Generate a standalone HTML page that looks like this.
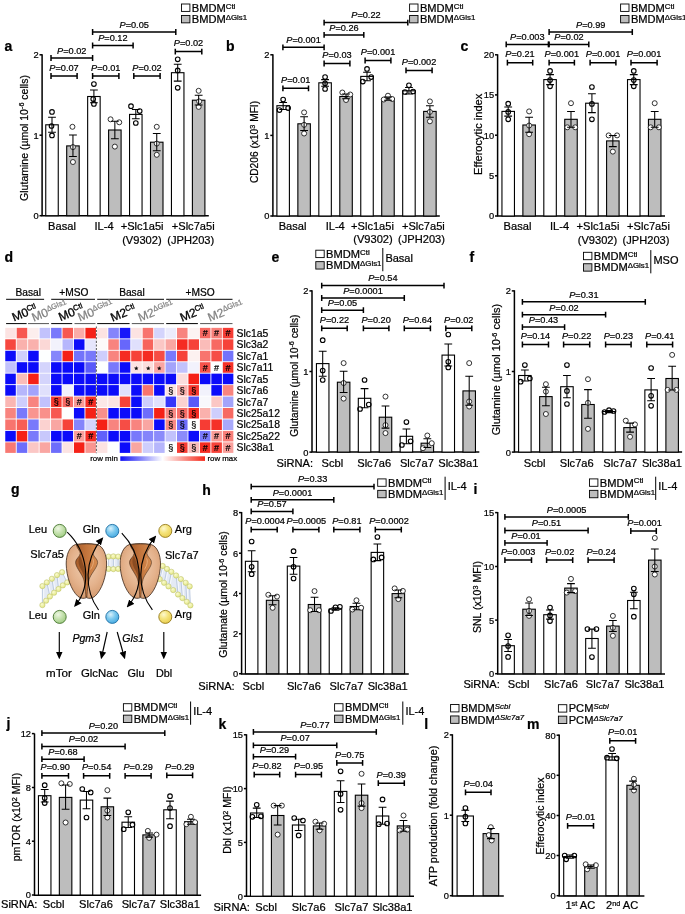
<!DOCTYPE html>
<html><head><meta charset="utf-8"><title>Figure</title>
<style>html,body{margin:0;padding:0;background:#fff}svg{display:block}text{stroke:#000;stroke-width:.22px}text.g{stroke:#7f7f7f;stroke-width:.2px}text.b{stroke-width:.3px}</style></head><body>
<svg width="685" height="914" viewBox="0 0 685 914" font-family='"Liberation Sans", Arial, Helvetica, sans-serif' stroke-linecap="butt">
<rect width="685" height="914" fill="#fff"/>
<text x="4.6" y="50.9" font-size="14" text-anchor="start" fill="#000" font-weight="bold">a</text>
<rect x="181.5" y="4" width="8.4" height="7.4" fill="#fff" stroke="#000" stroke-width="0.9"/>
<text transform="translate(191.8 11.6) scale(1.08 1)" font-size="10.3">BMDM<tspan font-size="7.3" dy="-3.1" >Ctl</tspan><tspan dy="3.1" font-size="1">&#8203;</tspan></text>
<rect x="181.5" y="15.45" width="8.4" height="7.4" fill="#bdbdbd" stroke="#000" stroke-width="0.9"/>
<text transform="translate(191.8 23.05) scale(1.08 1)" font-size="10.3">BMDM<tspan font-size="7.3" dy="-3.1" >&#916;Gls1</tspan><tspan dy="3.1" font-size="1">&#8203;</tspan></text>
<path d="M42.1 54.2V215.7H208.8" stroke="#000" stroke-width="1.5" fill="none"/>
<path d="M39.5 54.8H42.1" stroke="#000" stroke-width="1.5"/>
<text x="38.6" y="58.2" font-size="9.3" text-anchor="end" fill="#000" >2</text>
<path d="M39.5 135.2H42.1" stroke="#000" stroke-width="1.5"/>
<text x="38.6" y="138.6" font-size="9.3" text-anchor="end" fill="#000" >1</text>
<path d="M39.5 215.7H42.1" stroke="#000" stroke-width="1.5"/>
<text x="38.6" y="219.1" font-size="9.3" text-anchor="end" fill="#000" >0</text>
<text transform="translate(27.5 138) rotate(-90)" font-size="10.5" text-anchor="middle">Glutamine (&#181;mol 10<tspan font-size="7.3" dy="-3.1" >-6</tspan><tspan dy="3.1" font-size="1">&#8203;</tspan> cells)</text>
<rect x="45.75" y="124.8" width="12.5" height="90.9" fill="#fff" stroke="#000" stroke-width="1.1"/>
<rect x="66.7" y="145.9" width="12.5" height="69.8" fill="#bdbdbd" stroke="#000" stroke-width="1.1"/>
<rect x="87.65" y="96.5" width="12.5" height="119.2" fill="#fff" stroke="#000" stroke-width="1.1"/>
<rect x="108.6" y="130" width="12.5" height="85.7" fill="#bdbdbd" stroke="#000" stroke-width="1.1"/>
<rect x="129.55" y="114.4" width="12.5" height="101.3" fill="#fff" stroke="#000" stroke-width="1.1"/>
<rect x="150.5" y="142.2" width="12.5" height="73.5" fill="#bdbdbd" stroke="#000" stroke-width="1.1"/>
<rect x="171.45" y="72.7" width="12.5" height="143" fill="#fff" stroke="#000" stroke-width="1.1"/>
<rect x="192.4" y="100.2" width="12.5" height="115.5" fill="#bdbdbd" stroke="#000" stroke-width="1.1"/>
<circle cx="52" cy="111.9" r="2.3" fill="none" stroke="#000" stroke-width="1.1"/>
<circle cx="51.5" cy="126" r="2.3" fill="none" stroke="#000" stroke-width="1.1"/>
<circle cx="52" cy="135.4" r="2.3" fill="none" stroke="#000" stroke-width="1.1"/>
<path d="M52 117.3V132.2M48.1 117.3H55.9M48.1 132.2H55.9" stroke="#000" stroke-width="1.05" fill="none"/>
<circle cx="72.45" cy="126.8" r="2.5" fill="#fff" stroke="#111" stroke-width="0.85"/>
<circle cx="72.95" cy="147.1" r="2.5" fill="#fff" stroke="#111" stroke-width="0.85"/>
<circle cx="72.95" cy="162" r="2.5" fill="#fff" stroke="#111" stroke-width="0.85"/>
<path d="M72.95 135V156.5M69.05 135H76.85M69.05 156.5H76.85" stroke="#000" stroke-width="1.05" fill="none"/>
<circle cx="93.9" cy="84.1" r="2.3" fill="none" stroke="#000" stroke-width="1.1"/>
<circle cx="93.2" cy="99" r="2.3" fill="none" stroke="#000" stroke-width="1.1"/>
<circle cx="93.9" cy="103.9" r="2.3" fill="none" stroke="#000" stroke-width="1.1"/>
<path d="M93.9 90V102.7M90 90H97.8M90 102.7H97.8" stroke="#000" stroke-width="1.05" fill="none"/>
<circle cx="110.55" cy="119.3" r="2.5" fill="#fff" stroke="#111" stroke-width="0.85"/>
<circle cx="119.25" cy="122.3" r="2.5" fill="#fff" stroke="#111" stroke-width="0.85"/>
<circle cx="114.85" cy="146.6" r="2.5" fill="#fff" stroke="#111" stroke-width="0.85"/>
<path d="M114.85 121.3V138.7M110.95 121.3H118.75M110.95 138.7H118.75" stroke="#000" stroke-width="1.05" fill="none"/>
<circle cx="131" cy="106.2" r="2.3" fill="none" stroke="#000" stroke-width="1.1"/>
<circle cx="139.7" cy="111.1" r="2.3" fill="none" stroke="#000" stroke-width="1.1"/>
<circle cx="135.8" cy="123" r="2.3" fill="none" stroke="#000" stroke-width="1.1"/>
<path d="M135.8 109.4V118.8M131.9 109.4H139.7M131.9 118.8H139.7" stroke="#000" stroke-width="1.05" fill="none"/>
<circle cx="156.75" cy="126.8" r="2.5" fill="#fff" stroke="#111" stroke-width="0.85"/>
<circle cx="156.75" cy="143.6" r="2.5" fill="#fff" stroke="#111" stroke-width="0.85"/>
<circle cx="156.75" cy="154.8" r="2.5" fill="#fff" stroke="#111" stroke-width="0.85"/>
<path d="M156.75 133.5V150.8M152.85 133.5H160.65M152.85 150.8H160.65" stroke="#000" stroke-width="1.05" fill="none"/>
<circle cx="177.7" cy="59.3" r="2.3" fill="none" stroke="#000" stroke-width="1.1"/>
<circle cx="177.7" cy="70.4" r="2.3" fill="none" stroke="#000" stroke-width="1.1"/>
<circle cx="177.7" cy="87.8" r="2.3" fill="none" stroke="#000" stroke-width="1.1"/>
<path d="M177.7 64.2V81.1M173.8 64.2H181.6M173.8 81.1H181.6" stroke="#000" stroke-width="1.05" fill="none"/>
<circle cx="198.65" cy="90.8" r="2.5" fill="#fff" stroke="#111" stroke-width="0.85"/>
<circle cx="199.15" cy="101.4" r="2.5" fill="#fff" stroke="#111" stroke-width="0.85"/>
<circle cx="198.65" cy="106.9" r="2.5" fill="#fff" stroke="#111" stroke-width="0.85"/>
<path d="M198.65 95.2V104.9M194.75 95.2H202.55M194.75 104.9H202.55" stroke="#000" stroke-width="1.05" fill="none"/>
<path d="M92.6 29.1V34.9M175.8 29.1V34.9M92.6 32H175.8" stroke="#000" stroke-width="1.5" fill="none"/>
<text x="134.2" y="27.8" font-size="9.2" text-anchor="middle"><tspan font-style="italic">P</tspan>=0.05</text>
<path d="M92.6 42.6V48.4M133.1 42.6V48.4M92.6 45.5H133.1" stroke="#000" stroke-width="1.5" fill="none"/>
<text x="112.85" y="41.3" font-size="9.2" text-anchor="middle"><tspan font-style="italic">P</tspan>=0.12</text>
<path d="M51 55.1V60.9M92.6 55.1V60.9M51 58H92.6" stroke="#000" stroke-width="1.5" fill="none"/>
<text x="71.8" y="53.8" font-size="9.2" text-anchor="middle"><tspan font-style="italic">P</tspan>=0.02</text>
<path d="M51 73.1V78.9M77.1 73.1V78.9M51 76H77.1" stroke="#000" stroke-width="1.5" fill="none"/>
<text x="64.05" y="70.6" font-size="9.2" text-anchor="middle"><tspan font-style="italic">P</tspan>=0.07</text>
<path d="M92.6 73.1V78.9M118.9 73.1V78.9M92.6 76H118.9" stroke="#000" stroke-width="1.5" fill="none"/>
<text x="105.75" y="70.6" font-size="9.2" text-anchor="middle"><tspan font-style="italic">P</tspan>=0.01</text>
<path d="M133.8 73.1V78.9M160.1 73.1V78.9M133.8 76H160.1" stroke="#000" stroke-width="1.5" fill="none"/>
<text x="146.95" y="70.6" font-size="9.2" text-anchor="middle"><tspan font-style="italic">P</tspan>=0.02</text>
<path d="M175.3 48.7V54.5M201.8 48.7V54.5M175.3 51.6H201.8" stroke="#000" stroke-width="1.5" fill="none"/>
<text x="188.55" y="46.2" font-size="9.2" text-anchor="middle"><tspan font-style="italic">P</tspan>=0.02</text>
<text x="62" y="229.9" font-size="11.1" text-anchor="middle" fill="#000" >Basal</text>
<text x="104.1" y="229.9" font-size="11.1" text-anchor="middle" fill="#000" >IL-4</text>
<text x="142.1" y="229.9" font-size="11.1" text-anchor="middle" fill="#000" >+Slc1a5i</text>
<text x="193.2" y="229.9" font-size="11.1" text-anchor="middle" fill="#000" >+Slc7a5i</text>
<text x="141.9" y="243.7" font-size="11.1" text-anchor="middle" fill="#000" >(V9302)</text>
<text x="190.8" y="243.7" font-size="11.1" text-anchor="middle" fill="#000" >(JPH203)</text>
<text x="226" y="50.8" font-size="14" text-anchor="start" fill="#000" font-weight="bold">b</text>
<rect x="409.6" y="4" width="8.4" height="7.4" fill="#fff" stroke="#000" stroke-width="0.9"/>
<text transform="translate(419.9 11.6) scale(1.08 1)" font-size="10.3">BMDM<tspan font-size="7.3" dy="-3.1" >Ctl</tspan><tspan dy="3.1" font-size="1">&#8203;</tspan></text>
<rect x="409.6" y="15.45" width="8.4" height="7.4" fill="#bdbdbd" stroke="#000" stroke-width="0.9"/>
<text transform="translate(419.9 23.05) scale(1.08 1)" font-size="10.3">BMDM<tspan font-size="7.3" dy="-3.1" >&#916;Gls1</tspan><tspan dy="3.1" font-size="1">&#8203;</tspan></text>
<path d="M272.9 54.2V216H439.8" stroke="#000" stroke-width="1.5" fill="none"/>
<path d="M270.3 54.8H272.9" stroke="#000" stroke-width="1.5"/>
<text x="269.4" y="58.2" font-size="9.3" text-anchor="end" fill="#000" >2</text>
<path d="M270.3 135.4H272.9" stroke="#000" stroke-width="1.5"/>
<text x="269.4" y="138.8" font-size="9.3" text-anchor="end" fill="#000" >1</text>
<path d="M270.3 216H272.9" stroke="#000" stroke-width="1.5"/>
<text x="269.4" y="219.4" font-size="9.3" text-anchor="end" fill="#000" >0</text>
<text transform="translate(258.3 142) rotate(-90)" font-size="10.2" text-anchor="middle">CD206 (x10<tspan font-size="7.3" dy="-3.1" >3</tspan><tspan dy="3.1" font-size="1">&#8203;</tspan> MFI)</text>
<rect x="276.9" y="105.7" width="12.5" height="110.3" fill="#fff" stroke="#000" stroke-width="1.1"/>
<rect x="297.86" y="123.8" width="12.5" height="92.2" fill="#bdbdbd" stroke="#000" stroke-width="1.1"/>
<rect x="318.83" y="82.8" width="12.5" height="133.2" fill="#fff" stroke="#000" stroke-width="1.1"/>
<rect x="339.79" y="96.5" width="12.5" height="119.5" fill="#bdbdbd" stroke="#000" stroke-width="1.1"/>
<rect x="360.76" y="76.4" width="12.5" height="139.6" fill="#fff" stroke="#000" stroke-width="1.1"/>
<rect x="381.72" y="98.7" width="12.5" height="117.3" fill="#bdbdbd" stroke="#000" stroke-width="1.1"/>
<rect x="402.69" y="90.8" width="12.5" height="125.2" fill="#fff" stroke="#000" stroke-width="1.1"/>
<rect x="423.65" y="111.4" width="12.5" height="104.6" fill="#bdbdbd" stroke="#000" stroke-width="1.1"/>
<circle cx="283.15" cy="99.5" r="2.3" fill="none" stroke="#000" stroke-width="1.1"/>
<circle cx="279.45" cy="110.1" r="2.3" fill="none" stroke="#000" stroke-width="1.1"/>
<circle cx="288.15" cy="108.1" r="2.3" fill="none" stroke="#000" stroke-width="1.1"/>
<path d="M283.15 102.4V109.4M279.25 102.4H287.05M279.25 109.4H287.05" stroke="#000" stroke-width="1.05" fill="none"/>
<circle cx="304.11" cy="112.4" r="2.5" fill="#fff" stroke="#111" stroke-width="0.85"/>
<circle cx="304.11" cy="124.8" r="2.5" fill="#fff" stroke="#111" stroke-width="0.85"/>
<circle cx="304.11" cy="133.5" r="2.5" fill="#fff" stroke="#111" stroke-width="0.85"/>
<path d="M304.11 116.8V130.5M300.21 116.8H308.01M300.21 130.5H308.01" stroke="#000" stroke-width="1.05" fill="none"/>
<circle cx="325.08" cy="77.1" r="2.3" fill="none" stroke="#000" stroke-width="1.1"/>
<circle cx="325.08" cy="83.3" r="2.3" fill="none" stroke="#000" stroke-width="1.1"/>
<circle cx="325.08" cy="89" r="2.3" fill="none" stroke="#000" stroke-width="1.1"/>
<path d="M325.08 79.6V86.3M321.18 79.6H328.98M321.18 86.3H328.98" stroke="#000" stroke-width="1.05" fill="none"/>
<circle cx="342.34" cy="92.5" r="2.5" fill="#fff" stroke="#111" stroke-width="0.85"/>
<circle cx="350.24" cy="94.5" r="2.5" fill="#fff" stroke="#111" stroke-width="0.85"/>
<circle cx="346.04" cy="100" r="2.5" fill="#fff" stroke="#111" stroke-width="0.85"/>
<path d="M346.04 94V98.7M342.14 94H349.94M342.14 98.7H349.94" stroke="#000" stroke-width="1.05" fill="none"/>
<circle cx="367.01" cy="68.9" r="2.3" fill="none" stroke="#000" stroke-width="1.1"/>
<circle cx="371.21" cy="77.1" r="2.3" fill="none" stroke="#000" stroke-width="1.1"/>
<circle cx="362.81" cy="81.6" r="2.3" fill="none" stroke="#000" stroke-width="1.1"/>
<path d="M367.01 72.2V80.8M363.11 72.2H370.91M363.11 80.8H370.91" stroke="#000" stroke-width="1.05" fill="none"/>
<circle cx="387.97" cy="95.7" r="2.5" fill="#fff" stroke="#111" stroke-width="0.85"/>
<circle cx="383.77" cy="99.5" r="2.5" fill="#fff" stroke="#111" stroke-width="0.85"/>
<circle cx="392.17" cy="99" r="2.5" fill="#fff" stroke="#111" stroke-width="0.85"/>
<path d="M387.97 97V100.2M384.07 97H391.87M384.07 100.2H391.87" stroke="#000" stroke-width="1.05" fill="none"/>
<circle cx="408.94" cy="85.3" r="2.3" fill="none" stroke="#000" stroke-width="1.1"/>
<circle cx="404.94" cy="92" r="2.3" fill="none" stroke="#000" stroke-width="1.1"/>
<circle cx="413.14" cy="91.5" r="2.3" fill="none" stroke="#000" stroke-width="1.1"/>
<path d="M408.94 87.5V94M405.04 87.5H412.84M405.04 94H412.84" stroke="#000" stroke-width="1.05" fill="none"/>
<circle cx="429.9" cy="101.4" r="2.5" fill="#fff" stroke="#111" stroke-width="0.85"/>
<circle cx="429.9" cy="111.9" r="2.5" fill="#fff" stroke="#111" stroke-width="0.85"/>
<circle cx="429.9" cy="121.3" r="2.5" fill="#fff" stroke="#111" stroke-width="0.85"/>
<path d="M429.9 105.7V117.3M426 105.7H433.8M426 117.3H433.8" stroke="#000" stroke-width="1.05" fill="none"/>
<path d="M324.1 19.7V25.5M407.8 19.7V25.5M324.1 22.6H407.8" stroke="#000" stroke-width="1.5" fill="none"/>
<text x="365.95" y="18.4" font-size="9.2" text-anchor="middle"><tspan font-style="italic">P</tspan>=0.22</text>
<path d="M324.1 32V37.8M363.8 32V37.8M324.1 34.9H363.8" stroke="#000" stroke-width="1.5" fill="none"/>
<text x="343.95" y="30.7" font-size="9.2" text-anchor="middle"><tspan font-style="italic">P</tspan>=0.26</text>
<path d="M282.9 44.4V50.2M324.1 44.4V50.2M282.9 47.3H324.1" stroke="#000" stroke-width="1.5" fill="none"/>
<text x="303.5" y="43.1" font-size="9.2" text-anchor="middle"><tspan font-style="italic">P</tspan>=0.001</text>
<path d="M324.1 60.6V66.4M349.9 60.6V66.4M324.1 63.5H349.9" stroke="#000" stroke-width="1.5" fill="none"/>
<text x="337" y="58.1" font-size="9.2" text-anchor="middle"><tspan font-style="italic">P</tspan>=0.03</text>
<path d="M365.1 57.6V63.4M390.9 57.6V63.4M365.1 60.5H390.9" stroke="#000" stroke-width="1.5" fill="none"/>
<text x="378" y="55.1" font-size="9.2" text-anchor="middle"><tspan font-style="italic">P</tspan>=0.001</text>
<path d="M406 67.5V73.3M432.1 67.5V73.3M406 70.4H432.1" stroke="#000" stroke-width="1.5" fill="none"/>
<text x="419.05" y="65" font-size="9.2" text-anchor="middle"><tspan font-style="italic">P</tspan>=0.002</text>
<path d="M282.9 85.4V91.2M308.5 85.4V91.2M282.9 88.3H308.5" stroke="#000" stroke-width="1.5" fill="none"/>
<text x="295.7" y="82.9" font-size="9.2" text-anchor="middle"><tspan font-style="italic">P</tspan>=0.01</text>
<text x="292.6" y="229.6" font-size="11.1" text-anchor="middle" fill="#000" >Basal</text>
<text x="335.2" y="229.6" font-size="11.1" text-anchor="middle" fill="#000" >IL-4</text>
<text x="372.5" y="229.6" font-size="11.1" text-anchor="middle" fill="#000" >+Slc1a5i</text>
<text x="423.4" y="229.6" font-size="11.1" text-anchor="middle" fill="#000" >+Slc7a5i</text>
<text x="373" y="243.4" font-size="11.1" text-anchor="middle" fill="#000" >(V9302)</text>
<text x="421.5" y="243.4" font-size="11.1" text-anchor="middle" fill="#000" >(JPH203)</text>
<text x="460.6" y="50.8" font-size="14" text-anchor="start" fill="#000" font-weight="bold">c</text>
<rect x="620.6" y="4" width="8.4" height="7.4" fill="#fff" stroke="#000" stroke-width="0.9"/>
<text transform="translate(630.9 11.6) scale(1.08 1)" font-size="10.3">BMDM<tspan font-size="7.3" dy="-3.1" >Ctl</tspan><tspan dy="3.1" font-size="1">&#8203;</tspan></text>
<rect x="620.6" y="15.45" width="8.4" height="7.4" fill="#bdbdbd" stroke="#000" stroke-width="0.9"/>
<text transform="translate(630.9 23.05) scale(1.08 1)" font-size="10.3">BMDM<tspan font-size="7.3" dy="-3.1" >&#916;Gls1</tspan><tspan dy="3.1" font-size="1">&#8203;</tspan></text>
<path d="M497.6 54.2V216H665" stroke="#000" stroke-width="1.5" fill="none"/>
<path d="M495 54.8H497.6" stroke="#000" stroke-width="1.5"/>
<text x="494.1" y="58.2" font-size="9.3" text-anchor="end" fill="#000" >20</text>
<path d="M495 94.9H497.6" stroke="#000" stroke-width="1.5"/>
<text x="494.1" y="98.3" font-size="9.3" text-anchor="end" fill="#000" >15</text>
<path d="M495 135.2H497.6" stroke="#000" stroke-width="1.5"/>
<text x="494.1" y="138.6" font-size="9.3" text-anchor="end" fill="#000" >10</text>
<path d="M495 175.8H497.6" stroke="#000" stroke-width="1.5"/>
<text x="494.1" y="179.2" font-size="9.3" text-anchor="end" fill="#000" >5</text>
<path d="M495 216H497.6" stroke="#000" stroke-width="1.5"/>
<text x="494.1" y="219.4" font-size="9.3" text-anchor="end" fill="#000" >0</text>
<text transform="translate(481.6 134.3) rotate(-90)" font-size="11.1" text-anchor="middle">Efferocytic index</text>
<rect x="501.95" y="111.4" width="12.5" height="104.6" fill="#fff" stroke="#000" stroke-width="1.1"/>
<rect x="522.88" y="125" width="12.5" height="91" fill="#bdbdbd" stroke="#000" stroke-width="1.1"/>
<rect x="543.81" y="79.6" width="12.5" height="136.4" fill="#fff" stroke="#000" stroke-width="1.1"/>
<rect x="564.74" y="119.3" width="12.5" height="96.7" fill="#bdbdbd" stroke="#000" stroke-width="1.1"/>
<rect x="585.66" y="103.2" width="12.5" height="112.8" fill="#fff" stroke="#000" stroke-width="1.1"/>
<rect x="606.59" y="140.9" width="12.5" height="75.1" fill="#bdbdbd" stroke="#000" stroke-width="1.1"/>
<rect x="627.52" y="79.6" width="12.5" height="136.4" fill="#fff" stroke="#000" stroke-width="1.1"/>
<rect x="648.45" y="119.3" width="12.5" height="96.7" fill="#bdbdbd" stroke="#000" stroke-width="1.1"/>
<circle cx="508.2" cy="103.7" r="2.3" fill="none" stroke="#000" stroke-width="1.1"/>
<circle cx="508.2" cy="111.9" r="2.3" fill="none" stroke="#000" stroke-width="1.1"/>
<circle cx="508.2" cy="119.3" r="2.3" fill="none" stroke="#000" stroke-width="1.1"/>
<path d="M508.2 106.9V116.1M504.3 106.9H512.1M504.3 116.1H512.1" stroke="#000" stroke-width="1.05" fill="none"/>
<circle cx="529.13" cy="111.4" r="2.5" fill="#fff" stroke="#111" stroke-width="0.85"/>
<circle cx="529.13" cy="125.5" r="2.5" fill="#fff" stroke="#111" stroke-width="0.85"/>
<circle cx="529.13" cy="134.2" r="2.5" fill="#fff" stroke="#111" stroke-width="0.85"/>
<path d="M529.13 117.3V132.2M525.23 117.3H533.03M525.23 132.2H533.03" stroke="#000" stroke-width="1.05" fill="none"/>
<circle cx="550.06" cy="70.9" r="2.3" fill="none" stroke="#000" stroke-width="1.1"/>
<circle cx="550.06" cy="80.1" r="2.3" fill="none" stroke="#000" stroke-width="1.1"/>
<circle cx="550.06" cy="86.3" r="2.3" fill="none" stroke="#000" stroke-width="1.1"/>
<path d="M550.06 74.6V84.6M546.16 74.6H553.96M546.16 84.6H553.96" stroke="#000" stroke-width="1.05" fill="none"/>
<circle cx="570.99" cy="103.2" r="2.5" fill="#fff" stroke="#111" stroke-width="0.85"/>
<circle cx="567.29" cy="127.3" r="2.5" fill="#fff" stroke="#111" stroke-width="0.85"/>
<circle cx="575.19" cy="127.3" r="2.5" fill="#fff" stroke="#111" stroke-width="0.85"/>
<path d="M570.99 111.4V127.3M567.09 111.4H574.89M567.09 127.3H574.89" stroke="#000" stroke-width="1.05" fill="none"/>
<circle cx="591.91" cy="87" r="2.3" fill="none" stroke="#000" stroke-width="1.1"/>
<circle cx="591.91" cy="103.9" r="2.3" fill="none" stroke="#000" stroke-width="1.1"/>
<circle cx="591.91" cy="119.3" r="2.3" fill="none" stroke="#000" stroke-width="1.1"/>
<path d="M591.91 93.8V112.6M588.01 93.8H595.81M588.01 112.6H595.81" stroke="#000" stroke-width="1.05" fill="none"/>
<circle cx="608.64" cy="135.4" r="2.5" fill="#fff" stroke="#111" stroke-width="0.85"/>
<circle cx="617.04" cy="135.4" r="2.5" fill="#fff" stroke="#111" stroke-width="0.85"/>
<circle cx="612.84" cy="151.6" r="2.5" fill="#fff" stroke="#111" stroke-width="0.85"/>
<path d="M612.84 135.4V146.6M608.94 135.4H616.74M608.94 146.6H616.74" stroke="#000" stroke-width="1.05" fill="none"/>
<circle cx="633.77" cy="70.9" r="2.3" fill="none" stroke="#000" stroke-width="1.1"/>
<circle cx="633.77" cy="80.1" r="2.3" fill="none" stroke="#000" stroke-width="1.1"/>
<circle cx="633.77" cy="86.3" r="2.3" fill="none" stroke="#000" stroke-width="1.1"/>
<path d="M633.77 74.6V84.6M629.87 74.6H637.67M629.87 84.6H637.67" stroke="#000" stroke-width="1.05" fill="none"/>
<circle cx="654.7" cy="103.2" r="2.5" fill="#fff" stroke="#111" stroke-width="0.85"/>
<circle cx="650.7" cy="127.3" r="2.5" fill="#fff" stroke="#111" stroke-width="0.85"/>
<circle cx="658.9" cy="127.3" r="2.5" fill="#fff" stroke="#111" stroke-width="0.85"/>
<path d="M654.7 111.4V127.3M650.8 111.4H658.6M650.8 127.3H658.6" stroke="#000" stroke-width="1.05" fill="none"/>
<path d="M549.1 29.1V34.9M632.3 29.1V34.9M549.1 32H632.3" stroke="#000" stroke-width="1.5" fill="none"/>
<text x="590.7" y="27.8" font-size="9.2" text-anchor="middle"><tspan font-style="italic">P</tspan>=0.99</text>
<path d="M506.2 41.5V47.3M548.4 41.5V47.3M506.2 44.4H548.4" stroke="#000" stroke-width="1.5" fill="none"/>
<text x="527.3" y="40.2" font-size="9.2" text-anchor="middle"><tspan font-style="italic">P</tspan>=0.003</text>
<path d="M549.1 41.5V47.3M588.8 41.5V47.3M549.1 44.4H588.8" stroke="#000" stroke-width="1.5" fill="none"/>
<text x="568.95" y="40.2" font-size="9.2" text-anchor="middle"><tspan font-style="italic">P</tspan>=0.02</text>
<path d="M507.4 59.8V65.6M532.7 59.8V65.6M507.4 62.7H532.7" stroke="#000" stroke-width="1.5" fill="none"/>
<text x="520.05" y="57.3" font-size="9.2" text-anchor="middle"><tspan font-style="italic">P</tspan>=0.21</text>
<path d="M549.1 59.8V65.6M574.4 59.8V65.6M549.1 62.7H574.4" stroke="#000" stroke-width="1.5" fill="none"/>
<text x="561.75" y="57.3" font-size="9.2" text-anchor="middle"><tspan font-style="italic">P</tspan>=0.001</text>
<path d="M590.1 59.8V65.6M615.9 59.8V65.6M590.1 62.7H615.9" stroke="#000" stroke-width="1.5" fill="none"/>
<text x="603" y="57.3" font-size="9.2" text-anchor="middle"><tspan font-style="italic">P</tspan>=0.001</text>
<path d="M631 59.8V65.6M657.1 59.8V65.6M631 62.7H657.1" stroke="#000" stroke-width="1.5" fill="none"/>
<text x="644.05" y="57.3" font-size="9.2" text-anchor="middle"><tspan font-style="italic">P</tspan>=0.001</text>
<text x="517.5" y="229.9" font-size="11.1" text-anchor="middle" fill="#000" >Basal</text>
<text x="559.5" y="229.9" font-size="11.1" text-anchor="middle" fill="#000" >IL-4</text>
<text x="598" y="229.9" font-size="11.1" text-anchor="middle" fill="#000" >+Slc1a5i</text>
<text x="648.5" y="229.9" font-size="11.1" text-anchor="middle" fill="#000" >+Slc7a5i</text>
<text x="597.5" y="243.7" font-size="11.1" text-anchor="middle" fill="#000" >(V9302)</text>
<text x="646" y="243.7" font-size="11.1" text-anchor="middle" fill="#000" >(JPH203)</text>
<text x="271.5" y="261.8" font-size="14" text-anchor="start" fill="#000" font-weight="bold">e</text>
<rect x="315.8" y="250.2" width="8.4" height="7.4" fill="#fff" stroke="#000" stroke-width="0.9"/>
<text transform="translate(326.1 257.8) scale(1.08 1)" font-size="10.3">BMDM<tspan font-size="7.3" dy="-3.1" >Ctl</tspan><tspan dy="3.1" font-size="1">&#8203;</tspan></text>
<rect x="315.8" y="261.65" width="8.4" height="7.4" fill="#bdbdbd" stroke="#000" stroke-width="0.9"/>
<text transform="translate(326.1 269.25) scale(1.08 1)" font-size="10.3">BMDM<tspan font-size="7.3" dy="-3.1" >&#916;Gls1</tspan><tspan dy="3.1" font-size="1">&#8203;</tspan></text>
<path d="M382.8 248V271.25" stroke="#000" stroke-width="1"/>
<text x="385.4" y="261.73" font-size="11" text-anchor="start" fill="#000" >Basal</text>
<path d="M312 290.3V452.1H479.3" stroke="#000" stroke-width="1.5" fill="none"/>
<path d="M309.4 290.9H312" stroke="#000" stroke-width="1.5"/>
<text x="308.5" y="294.3" font-size="9.3" text-anchor="end" fill="#000" >2</text>
<path d="M309.4 371.5H312" stroke="#000" stroke-width="1.5"/>
<text x="308.5" y="374.9" font-size="9.3" text-anchor="end" fill="#000" >1</text>
<path d="M309.4 452.1H312" stroke="#000" stroke-width="1.5"/>
<text x="308.5" y="455.5" font-size="9.3" text-anchor="end" fill="#000" >0</text>
<text transform="translate(297.5 375.6) rotate(-90)" font-size="10.2" text-anchor="middle">Glutamine (&#181;mol 10<tspan font-size="7.3" dy="-3.1" >-6</tspan><tspan dy="3.1" font-size="1">&#8203;</tspan> cells)</text>
<rect x="316.45" y="363.6" width="12.5" height="88.5" fill="#fff" stroke="#000" stroke-width="1.1"/>
<rect x="337.38" y="382.2" width="12.5" height="69.9" fill="#bdbdbd" stroke="#000" stroke-width="1.1"/>
<rect x="358.31" y="398.3" width="12.5" height="53.8" fill="#fff" stroke="#000" stroke-width="1.1"/>
<rect x="379.24" y="417.2" width="12.5" height="34.9" fill="#bdbdbd" stroke="#000" stroke-width="1.1"/>
<rect x="400.16" y="436.3" width="12.5" height="15.8" fill="#fff" stroke="#000" stroke-width="1.1"/>
<rect x="421.09" y="443.2" width="12.5" height="8.9" fill="#bdbdbd" stroke="#000" stroke-width="1.1"/>
<rect x="442.02" y="355.1" width="12.5" height="97" fill="#fff" stroke="#000" stroke-width="1.1"/>
<rect x="462.95" y="390.9" width="12.5" height="61.2" fill="#bdbdbd" stroke="#000" stroke-width="1.1"/>
<circle cx="322.7" cy="340.2" r="2.3" fill="none" stroke="#000" stroke-width="1.1"/>
<circle cx="322.7" cy="370.5" r="2.3" fill="none" stroke="#000" stroke-width="1.1"/>
<circle cx="322.7" cy="380" r="2.3" fill="none" stroke="#000" stroke-width="1.1"/>
<path d="M322.7 351.2V376.2M318.8 351.2H326.6M318.8 376.2H326.6" stroke="#000" stroke-width="1.05" fill="none"/>
<circle cx="343.63" cy="363.1" r="2.5" fill="#fff" stroke="#111" stroke-width="0.85"/>
<circle cx="343.63" cy="383" r="2.5" fill="#fff" stroke="#111" stroke-width="0.85"/>
<circle cx="343.63" cy="398.6" r="2.5" fill="#fff" stroke="#111" stroke-width="0.85"/>
<path d="M343.63 371.3V392.4M339.73 371.3H347.53M339.73 392.4H347.53" stroke="#000" stroke-width="1.05" fill="none"/>
<circle cx="364.56" cy="380" r="2.3" fill="none" stroke="#000" stroke-width="1.1"/>
<circle cx="368.76" cy="404.5" r="2.3" fill="none" stroke="#000" stroke-width="1.1"/>
<circle cx="360.06" cy="409" r="2.3" fill="none" stroke="#000" stroke-width="1.1"/>
<path d="M364.56 388.6V407.7M360.66 388.6H368.46M360.66 407.7H368.46" stroke="#000" stroke-width="1.05" fill="none"/>
<circle cx="385.49" cy="396.6" r="2.5" fill="#fff" stroke="#111" stroke-width="0.85"/>
<circle cx="385.49" cy="425.1" r="2.5" fill="#fff" stroke="#111" stroke-width="0.85"/>
<circle cx="385.49" cy="433.1" r="2.5" fill="#fff" stroke="#111" stroke-width="0.85"/>
<path d="M385.49 406V428.1M381.59 406H389.39M381.59 428.1H389.39" stroke="#000" stroke-width="1.05" fill="none"/>
<circle cx="406.41" cy="422.1" r="2.3" fill="none" stroke="#000" stroke-width="1.1"/>
<circle cx="410.61" cy="441.3" r="2.3" fill="none" stroke="#000" stroke-width="1.1"/>
<circle cx="401.91" cy="445" r="2.3" fill="none" stroke="#000" stroke-width="1.1"/>
<path d="M406.41 428.9V443.7M402.51 428.9H410.31M402.51 443.7H410.31" stroke="#000" stroke-width="1.05" fill="none"/>
<circle cx="427.34" cy="435.5" r="2.5" fill="#fff" stroke="#111" stroke-width="0.85"/>
<circle cx="431.74" cy="443.2" r="2.5" fill="#fff" stroke="#111" stroke-width="0.85"/>
<circle cx="423.04" cy="448.2" r="2.5" fill="#fff" stroke="#111" stroke-width="0.85"/>
<path d="M427.34 438.8V447.5M423.44 438.8H431.24M423.44 447.5H431.24" stroke="#000" stroke-width="1.05" fill="none"/>
<circle cx="448.27" cy="334.5" r="2.3" fill="none" stroke="#000" stroke-width="1.1"/>
<circle cx="448.27" cy="361.8" r="2.3" fill="none" stroke="#000" stroke-width="1.1"/>
<circle cx="448.27" cy="367.5" r="2.3" fill="none" stroke="#000" stroke-width="1.1"/>
<path d="M448.27 344V366M444.37 344H452.17M444.37 366H452.17" stroke="#000" stroke-width="1.05" fill="none"/>
<circle cx="469.2" cy="363.1" r="2.5" fill="#fff" stroke="#111" stroke-width="0.85"/>
<circle cx="469.2" cy="401.5" r="2.5" fill="#fff" stroke="#111" stroke-width="0.85"/>
<circle cx="469.2" cy="406.5" r="2.5" fill="#fff" stroke="#111" stroke-width="0.85"/>
<path d="M469.2 376.2V405.3M465.3 376.2H473.1M465.3 405.3H473.1" stroke="#000" stroke-width="1.05" fill="none"/>
<path d="M321.7 282.7V288.5M444 282.7V288.5M321.7 285.6H444" stroke="#000" stroke-width="1.5" fill="none"/>
<text x="382.85" y="281.4" font-size="9.2" text-anchor="middle"><tspan font-style="italic">P</tspan>=0.54</text>
<path d="M321.7 295.1V300.9M404.3 295.1V300.9M321.7 298H404.3" stroke="#000" stroke-width="1.5" fill="none"/>
<text x="363" y="293.8" font-size="9.2" text-anchor="middle"><tspan font-style="italic">P</tspan>=0.0001</text>
<path d="M321.7 307.3V313.1M363.4 307.3V313.1M321.7 310.2H363.4" stroke="#000" stroke-width="1.5" fill="none"/>
<text x="342.55" y="306" font-size="9.2" text-anchor="middle"><tspan font-style="italic">P</tspan>=0.05</text>
<path d="M321.7 325.4V331.2M347.2 325.4V331.2M321.7 328.3H347.2" stroke="#000" stroke-width="1.5" fill="none"/>
<text x="334.45" y="322.9" font-size="9.2" text-anchor="middle"><tspan font-style="italic">P</tspan>=0.22</text>
<path d="M363.4 325.4V331.2M388.9 325.4V331.2M363.4 328.3H388.9" stroke="#000" stroke-width="1.5" fill="none"/>
<text x="376.15" y="322.9" font-size="9.2" text-anchor="middle"><tspan font-style="italic">P</tspan>=0.20</text>
<path d="M404.3 325.4V331.2M430.4 325.4V331.2M404.3 328.3H430.4" stroke="#000" stroke-width="1.5" fill="none"/>
<text x="417.35" y="322.9" font-size="9.2" text-anchor="middle"><tspan font-style="italic">P</tspan>=0.64</text>
<path d="M445.8 325.4V331.2M471.8 325.4V331.2M445.8 328.3H471.8" stroke="#000" stroke-width="1.5" fill="none"/>
<text x="458.8" y="322.9" font-size="9.2" text-anchor="middle"><tspan font-style="italic">P</tspan>=0.02</text>
<text x="276.6" y="466.5" font-size="11.1" text-anchor="start" fill="#000" >SiRNA:</text>
<text x="332.4" y="466.5" font-size="11.1" text-anchor="middle" fill="#000" >Scbl</text>
<text x="374.2" y="466.5" font-size="11.1" text-anchor="middle" fill="#000" >Slc7a6</text>
<text x="416.9" y="466.5" font-size="11.1" text-anchor="middle" fill="#000" >Slc7a7</text>
<text x="458.3" y="466.5" font-size="11.1" text-anchor="middle" fill="#000" >Slc38a1</text>
<text x="469.5" y="262.1" font-size="14" text-anchor="start" fill="#000" font-weight="bold">f</text>
<rect x="583.5" y="252.3" width="8.4" height="7.4" fill="#fff" stroke="#000" stroke-width="0.9"/>
<text transform="translate(593.8 259.9) scale(1.08 1)" font-size="10.3">BMDM<tspan font-size="7.3" dy="-3.1" >Ctl</tspan><tspan dy="3.1" font-size="1">&#8203;</tspan></text>
<rect x="583.5" y="263.75" width="8.4" height="7.4" fill="#bdbdbd" stroke="#000" stroke-width="0.9"/>
<text transform="translate(593.8 271.35) scale(1.08 1)" font-size="10.3">BMDM<tspan font-size="7.3" dy="-3.1" >&#916;Gls1</tspan><tspan dy="3.1" font-size="1">&#8203;</tspan></text>
<path d="M650.8 250.1V273.35" stroke="#000" stroke-width="1"/>
<text x="653.4" y="263.83" font-size="11" text-anchor="start" fill="#000" >MSO</text>
<path d="M514.4 290.3V452.1H682.1" stroke="#000" stroke-width="1.5" fill="none"/>
<path d="M511.8 290.9H514.4" stroke="#000" stroke-width="1.5"/>
<text x="510.9" y="294.3" font-size="9.3" text-anchor="end" fill="#000" >2</text>
<path d="M511.8 371.5H514.4" stroke="#000" stroke-width="1.5"/>
<text x="510.9" y="374.9" font-size="9.3" text-anchor="end" fill="#000" >1</text>
<path d="M511.8 452.1H514.4" stroke="#000" stroke-width="1.5"/>
<text x="510.9" y="455.5" font-size="9.3" text-anchor="end" fill="#000" >0</text>
<text transform="translate(499.8 369.6) rotate(-90)" font-size="11" text-anchor="middle">Glutamine (&#181;mol 10<tspan font-size="7.3" dy="-3.1" >-6</tspan><tspan dy="3.1" font-size="1">&#8203;</tspan> cells)</text>
<rect x="518.6" y="375.5" width="12.5" height="76.6" fill="#fff" stroke="#000" stroke-width="1.1"/>
<rect x="539.64" y="396.6" width="12.5" height="55.5" fill="#bdbdbd" stroke="#000" stroke-width="1.1"/>
<rect x="560.69" y="386.7" width="12.5" height="65.4" fill="#fff" stroke="#000" stroke-width="1.1"/>
<rect x="581.73" y="404.5" width="12.5" height="47.6" fill="#bdbdbd" stroke="#000" stroke-width="1.1"/>
<rect x="602.77" y="411.5" width="12.5" height="40.6" fill="#fff" stroke="#000" stroke-width="1.1"/>
<rect x="623.81" y="427.6" width="12.5" height="24.5" fill="#bdbdbd" stroke="#000" stroke-width="1.1"/>
<rect x="644.86" y="389.9" width="12.5" height="62.2" fill="#fff" stroke="#000" stroke-width="1.1"/>
<rect x="665.9" y="378.5" width="12.5" height="73.6" fill="#bdbdbd" stroke="#000" stroke-width="1.1"/>
<circle cx="524.85" cy="365.1" r="2.3" fill="none" stroke="#000" stroke-width="1.1"/>
<circle cx="529.85" cy="378.5" r="2.3" fill="none" stroke="#000" stroke-width="1.1"/>
<circle cx="520.65" cy="381.7" r="2.3" fill="none" stroke="#000" stroke-width="1.1"/>
<path d="M524.85 370V380.9M520.95 370H528.75M520.95 380.9H528.75" stroke="#000" stroke-width="1.05" fill="none"/>
<circle cx="545.89" cy="384.2" r="2.5" fill="#fff" stroke="#111" stroke-width="0.85"/>
<circle cx="545.89" cy="391.6" r="2.5" fill="#fff" stroke="#111" stroke-width="0.85"/>
<circle cx="545.89" cy="414" r="2.5" fill="#fff" stroke="#111" stroke-width="0.85"/>
<path d="M545.89 387.2V405.8M541.99 387.2H549.79M541.99 405.8H549.79" stroke="#000" stroke-width="1.05" fill="none"/>
<circle cx="566.94" cy="365.1" r="2.3" fill="none" stroke="#000" stroke-width="1.1"/>
<circle cx="566.94" cy="390.9" r="2.3" fill="none" stroke="#000" stroke-width="1.1"/>
<circle cx="566.94" cy="404" r="2.3" fill="none" stroke="#000" stroke-width="1.1"/>
<path d="M566.94 375.5V397.8M563.04 375.5H570.84M563.04 397.8H570.84" stroke="#000" stroke-width="1.05" fill="none"/>
<circle cx="587.98" cy="379.2" r="2.5" fill="#fff" stroke="#111" stroke-width="0.85"/>
<circle cx="587.98" cy="402.8" r="2.5" fill="#fff" stroke="#111" stroke-width="0.85"/>
<circle cx="587.98" cy="428.9" r="2.5" fill="#fff" stroke="#111" stroke-width="0.85"/>
<path d="M587.98 389.6V418.2M584.08 389.6H591.88M584.08 418.2H591.88" stroke="#000" stroke-width="1.05" fill="none"/>
<circle cx="604.52" cy="412" r="2.3" fill="none" stroke="#000" stroke-width="1.1"/>
<circle cx="609.02" cy="410.2" r="2.3" fill="none" stroke="#000" stroke-width="1.1"/>
<circle cx="613.52" cy="411" r="2.3" fill="none" stroke="#000" stroke-width="1.1"/>
<path d="M609.02 410.4V412.6M605.12 410.4H612.92M605.12 412.6H612.92" stroke="#000" stroke-width="1.05" fill="none"/>
<circle cx="625.76" cy="420.7" r="2.5" fill="#fff" stroke="#111" stroke-width="0.85"/>
<circle cx="634.96" cy="424.4" r="2.5" fill="#fff" stroke="#111" stroke-width="0.85"/>
<circle cx="630.06" cy="436.8" r="2.5" fill="#fff" stroke="#111" stroke-width="0.85"/>
<path d="M630.06 423.1V432.1M626.16 423.1H633.96M626.16 432.1H633.96" stroke="#000" stroke-width="1.05" fill="none"/>
<circle cx="651.11" cy="368" r="2.3" fill="none" stroke="#000" stroke-width="1.1"/>
<circle cx="651.11" cy="395.8" r="2.3" fill="none" stroke="#000" stroke-width="1.1"/>
<circle cx="651.11" cy="405.8" r="2.3" fill="none" stroke="#000" stroke-width="1.1"/>
<path d="M651.11 378.5V400.8M647.21 378.5H655.01M647.21 400.8H655.01" stroke="#000" stroke-width="1.05" fill="none"/>
<circle cx="672.15" cy="354.9" r="2.5" fill="#fff" stroke="#111" stroke-width="0.85"/>
<circle cx="667.65" cy="389.9" r="2.5" fill="#fff" stroke="#111" stroke-width="0.85"/>
<circle cx="676.35" cy="389.9" r="2.5" fill="#fff" stroke="#111" stroke-width="0.85"/>
<path d="M672.15 366.3V389.9M668.25 366.3H676.05M668.25 389.9H676.05" stroke="#000" stroke-width="1.05" fill="none"/>
<path d="M522.4 298.9V304.7M645.3 298.9V304.7M522.4 301.8H645.3" stroke="#000" stroke-width="1.5" fill="none"/>
<text x="583.85" y="297.6" font-size="9.2" text-anchor="middle"><tspan font-style="italic">P</tspan>=0.31</text>
<path d="M522.4 311.8V317.6M605.6 311.8V317.6M522.4 314.7H605.6" stroke="#000" stroke-width="1.5" fill="none"/>
<text x="564" y="310.5" font-size="9.2" text-anchor="middle"><tspan font-style="italic">P</tspan>=0.02</text>
<path d="M522.4 324.2V330M564.6 324.2V330M522.4 327.1H564.6" stroke="#000" stroke-width="1.5" fill="none"/>
<text x="543.5" y="322.9" font-size="9.2" text-anchor="middle"><tspan font-style="italic">P</tspan>=0.43</text>
<path d="M522.4 341.6V347.4M548.5 341.6V347.4M522.4 344.5H548.5" stroke="#000" stroke-width="1.5" fill="none"/>
<text x="535.45" y="339.1" font-size="9.2" text-anchor="middle"><tspan font-style="italic">P</tspan>=0.14</text>
<path d="M563.6 341.6V347.4M589.7 341.6V347.4M563.6 344.5H589.7" stroke="#000" stroke-width="1.5" fill="none"/>
<text x="576.65" y="339.1" font-size="9.2" text-anchor="middle"><tspan font-style="italic">P</tspan>=0.22</text>
<path d="M605.6 341.6V347.4M631.1 341.6V347.4M605.6 344.5H631.1" stroke="#000" stroke-width="1.5" fill="none"/>
<text x="618.35" y="339.1" font-size="9.2" text-anchor="middle"><tspan font-style="italic">P</tspan>=0.23</text>
<path d="M646.8 341.6V347.4M672.6 341.6V347.4M646.8 344.5H672.6" stroke="#000" stroke-width="1.5" fill="none"/>
<text x="659.7" y="339.1" font-size="9.2" text-anchor="middle"><tspan font-style="italic">P</tspan>=0.41</text>
<text x="534.6" y="466.5" font-size="11.1" text-anchor="middle" fill="#000" >Scbl</text>
<text x="576.7" y="466.5" font-size="11.1" text-anchor="middle" fill="#000" >Slc7a6</text>
<text x="620.3" y="466.5" font-size="11.1" text-anchor="middle" fill="#000" >Slc7a7</text>
<text x="662" y="466.5" font-size="11.1" text-anchor="middle" fill="#000" >Slc38a1</text>
<text x="202.2" y="494.6" font-size="14" text-anchor="start" fill="#000" font-weight="bold">h</text>
<rect x="377.7" y="478.9" width="8.4" height="7.4" fill="#fff" stroke="#000" stroke-width="0.9"/>
<text transform="translate(388 486.5) scale(1.08 1)" font-size="10.3">BMDM<tspan font-size="7.3" dy="-3.1" >Ctl</tspan><tspan dy="3.1" font-size="1">&#8203;</tspan></text>
<rect x="377.7" y="490.35" width="8.4" height="7.4" fill="#bdbdbd" stroke="#000" stroke-width="0.9"/>
<text transform="translate(388 497.95) scale(1.08 1)" font-size="10.3">BMDM<tspan font-size="7.3" dy="-3.1" >&#916;Gls1</tspan><tspan dy="3.1" font-size="1">&#8203;</tspan></text>
<path d="M445.1 476.7V499.95" stroke="#000" stroke-width="1"/>
<text x="447.7" y="490.43" font-size="11" text-anchor="start" fill="#000" >IL-4</text>
<path d="M241.6 512V673.9H408.8" stroke="#000" stroke-width="1.5" fill="none"/>
<path d="M239 512.6H241.6" stroke="#000" stroke-width="1.5"/>
<text x="238.1" y="516" font-size="9.3" text-anchor="end" fill="#000" >8</text>
<path d="M239 553.2H241.6" stroke="#000" stroke-width="1.5"/>
<text x="238.1" y="556.6" font-size="9.3" text-anchor="end" fill="#000" >6</text>
<path d="M239 593.5H241.6" stroke="#000" stroke-width="1.5"/>
<text x="238.1" y="596.9" font-size="9.3" text-anchor="end" fill="#000" >4</text>
<path d="M239 633.8H241.6" stroke="#000" stroke-width="1.5"/>
<text x="238.1" y="637.2" font-size="9.3" text-anchor="end" fill="#000" >2</text>
<path d="M239 673.7H241.6" stroke="#000" stroke-width="1.5"/>
<text x="238.1" y="677.1" font-size="9.3" text-anchor="end" fill="#000" >0</text>
<text transform="translate(227 594.5) rotate(-90)" font-size="10.5" text-anchor="middle">Glutamate (&#181;mol 10<tspan font-size="7.3" dy="-3.1" >-6</tspan><tspan dy="3.1" font-size="1">&#8203;</tspan> cells)</text>
<rect x="245.4" y="561.3" width="12.5" height="112.4" fill="#fff" stroke="#000" stroke-width="1.1"/>
<rect x="266.36" y="600.3" width="12.5" height="73.4" fill="#bdbdbd" stroke="#000" stroke-width="1.1"/>
<rect x="287.31" y="566.1" width="12.5" height="107.6" fill="#fff" stroke="#000" stroke-width="1.1"/>
<rect x="308.27" y="604.5" width="12.5" height="69.2" fill="#bdbdbd" stroke="#000" stroke-width="1.1"/>
<rect x="329.23" y="609" width="12.5" height="64.7" fill="#fff" stroke="#000" stroke-width="1.1"/>
<rect x="350.19" y="606.5" width="12.5" height="67.2" fill="#bdbdbd" stroke="#000" stroke-width="1.1"/>
<rect x="371.14" y="552.4" width="12.5" height="121.3" fill="#fff" stroke="#000" stroke-width="1.1"/>
<rect x="392.1" y="593.6" width="12.5" height="80.1" fill="#bdbdbd" stroke="#000" stroke-width="1.1"/>
<circle cx="251.65" cy="541.5" r="2.3" fill="none" stroke="#000" stroke-width="1.1"/>
<circle cx="251.65" cy="566.8" r="2.3" fill="none" stroke="#000" stroke-width="1.1"/>
<circle cx="251.65" cy="574.2" r="2.3" fill="none" stroke="#000" stroke-width="1.1"/>
<path d="M251.65 550.7V571.8M247.75 550.7H255.55M247.75 571.8H255.55" stroke="#000" stroke-width="1.05" fill="none"/>
<circle cx="268.31" cy="594.8" r="2.5" fill="#fff" stroke="#111" stroke-width="0.85"/>
<circle cx="277.01" cy="596.6" r="2.5" fill="#fff" stroke="#111" stroke-width="0.85"/>
<circle cx="272.61" cy="607.8" r="2.5" fill="#fff" stroke="#111" stroke-width="0.85"/>
<path d="M272.61 595.8V604.8M268.71 595.8H276.51M268.71 604.8H276.51" stroke="#000" stroke-width="1.05" fill="none"/>
<circle cx="293.56" cy="551.2" r="2.3" fill="none" stroke="#000" stroke-width="1.1"/>
<circle cx="293.56" cy="566.8" r="2.3" fill="none" stroke="#000" stroke-width="1.1"/>
<circle cx="293.56" cy="578.5" r="2.3" fill="none" stroke="#000" stroke-width="1.1"/>
<path d="M293.56 557.4V574.2M289.66 557.4H297.46M289.66 574.2H297.46" stroke="#000" stroke-width="1.05" fill="none"/>
<circle cx="314.52" cy="591.1" r="2.5" fill="#fff" stroke="#111" stroke-width="0.85"/>
<circle cx="310.22" cy="610.2" r="2.5" fill="#fff" stroke="#111" stroke-width="0.85"/>
<circle cx="318.92" cy="610.2" r="2.5" fill="#fff" stroke="#111" stroke-width="0.85"/>
<path d="M314.52 597.3V611.5M310.62 597.3H318.42M310.62 611.5H318.42" stroke="#000" stroke-width="1.05" fill="none"/>
<circle cx="330.98" cy="611" r="2.3" fill="none" stroke="#000" stroke-width="1.1"/>
<circle cx="335.48" cy="607.3" r="2.3" fill="none" stroke="#000" stroke-width="1.1"/>
<circle cx="339.88" cy="606.8" r="2.3" fill="none" stroke="#000" stroke-width="1.1"/>
<path d="M335.48 607.8V610.2M331.58 607.8H339.38M331.58 610.2H339.38" stroke="#000" stroke-width="1.05" fill="none"/>
<circle cx="356.44" cy="600.3" r="2.5" fill="#fff" stroke="#111" stroke-width="0.85"/>
<circle cx="352.44" cy="609.5" r="2.5" fill="#fff" stroke="#111" stroke-width="0.85"/>
<circle cx="361.14" cy="607.8" r="2.5" fill="#fff" stroke="#111" stroke-width="0.85"/>
<path d="M356.44 603.3V609.7M352.54 603.3H360.34M352.54 609.7H360.34" stroke="#000" stroke-width="1.05" fill="none"/>
<circle cx="377.39" cy="537" r="2.3" fill="none" stroke="#000" stroke-width="1.1"/>
<circle cx="373.39" cy="559.4" r="2.3" fill="none" stroke="#000" stroke-width="1.1"/>
<circle cx="381.59" cy="557.4" r="2.3" fill="none" stroke="#000" stroke-width="1.1"/>
<path d="M377.39 544V560.6M373.49 544H381.29M373.49 560.6H381.29" stroke="#000" stroke-width="1.05" fill="none"/>
<circle cx="394.65" cy="588.4" r="2.5" fill="#fff" stroke="#111" stroke-width="0.85"/>
<circle cx="402.85" cy="590.9" r="2.5" fill="#fff" stroke="#111" stroke-width="0.85"/>
<circle cx="398.35" cy="599.1" r="2.5" fill="#fff" stroke="#111" stroke-width="0.85"/>
<path d="M398.35 589.9V597.8M394.45 589.9H402.25M394.45 597.8H402.25" stroke="#000" stroke-width="1.05" fill="none"/>
<path d="M251.2 483.7V489.5M374 483.7V489.5M251.2 486.6H374" stroke="#000" stroke-width="1.5" fill="none"/>
<text x="312.6" y="482.4" font-size="9.2" text-anchor="middle"><tspan font-style="italic">P</tspan>=0.33</text>
<path d="M251.2 496.9V502.7M333.8 496.9V502.7M251.2 499.8H333.8" stroke="#000" stroke-width="1.5" fill="none"/>
<text x="292.5" y="495.6" font-size="9.2" text-anchor="middle"><tspan font-style="italic">P</tspan>=0.0001</text>
<path d="M251.2 508.5V514.3M292.9 508.5V514.3M251.2 511.4H292.9" stroke="#000" stroke-width="1.5" fill="none"/>
<text x="272.05" y="507.2" font-size="9.2" text-anchor="middle"><tspan font-style="italic">P</tspan>=0.57</text>
<path d="M251.2 526.7V532.5M277.2 526.7V532.5M251.2 529.6H277.2" stroke="#000" stroke-width="1.5" fill="none"/>
<text x="265.1" y="524.2" font-size="9.2" text-anchor="middle"><tspan font-style="italic">P</tspan>=0.0004</text>
<path d="M292.9 526.7V532.5M318.9 526.7V532.5M292.9 529.6H318.9" stroke="#000" stroke-width="1.5" fill="none"/>
<text x="306.4" y="524.2" font-size="9.2" text-anchor="middle"><tspan font-style="italic">P</tspan>=0.0005</text>
<path d="M333.8 526.7V532.5M359.9 526.7V532.5M333.8 529.6H359.9" stroke="#000" stroke-width="1.5" fill="none"/>
<text x="346.85" y="524.2" font-size="9.2" text-anchor="middle"><tspan font-style="italic">P</tspan>=0.81</text>
<path d="M375.3 526.7V532.5M401.3 526.7V532.5M375.3 529.6H401.3" stroke="#000" stroke-width="1.5" fill="none"/>
<text x="389" y="524.2" font-size="9.2" text-anchor="middle"><tspan font-style="italic">P</tspan>=0.0002</text>
<text x="198.3" y="689.5" font-size="11.1" text-anchor="start" fill="#000" >SiRNA:</text>
<text x="253.4" y="689.5" font-size="11.1" text-anchor="middle" fill="#000" >Scbl</text>
<text x="303.9" y="689.5" font-size="11.1" text-anchor="middle" fill="#000" >Slc7a6</text>
<text x="346.5" y="689.5" font-size="11.1" text-anchor="middle" fill="#000" >Slc7a7</text>
<text x="387.75" y="689.5" font-size="11.1" text-anchor="middle" fill="#000" >Slc38a1</text>
<text x="473.4" y="494.4" font-size="14" text-anchor="start" fill="#000" font-weight="bold">i</text>
<rect x="589.5" y="478.9" width="8.4" height="7.4" fill="#fff" stroke="#000" stroke-width="0.9"/>
<text transform="translate(599.8 486.5) scale(1.08 1)" font-size="10.3">BMDM<tspan font-size="7.3" dy="-3.1" >Ctl</tspan><tspan dy="3.1" font-size="1">&#8203;</tspan></text>
<rect x="589.5" y="490.35" width="8.4" height="7.4" fill="#bdbdbd" stroke="#000" stroke-width="0.9"/>
<text transform="translate(599.8 497.95) scale(1.08 1)" font-size="10.3">BMDM<tspan font-size="7.3" dy="-3.1" >&#916;Gls1</tspan><tspan dy="3.1" font-size="1">&#8203;</tspan></text>
<path d="M655.7 476.7V499.95" stroke="#000" stroke-width="1"/>
<text x="658.3" y="490.43" font-size="11" text-anchor="start" fill="#000" >IL-4</text>
<path d="M497.7 512V673.9H665" stroke="#000" stroke-width="1.5" fill="none"/>
<path d="M495.1 512.6H497.7" stroke="#000" stroke-width="1.5"/>
<text x="494.2" y="516" font-size="9.3" text-anchor="end" fill="#000" >15</text>
<path d="M495.1 566.5H497.7" stroke="#000" stroke-width="1.5"/>
<text x="494.2" y="569.9" font-size="9.3" text-anchor="end" fill="#000" >10</text>
<path d="M495.1 620.1H497.7" stroke="#000" stroke-width="1.5"/>
<text x="494.2" y="623.5" font-size="9.3" text-anchor="end" fill="#000" >5</text>
<path d="M495.1 673.7H497.7" stroke="#000" stroke-width="1.5"/>
<text x="494.2" y="677.1" font-size="9.3" text-anchor="end" fill="#000" >0</text>
<text transform="translate(481 597) rotate(-90)" font-size="10.5" text-anchor="middle">SNL (x10<tspan font-size="7.3" dy="-3.1" >3</tspan><tspan dy="3.1" font-size="1">&#8203;</tspan> MFI)</text>
<rect x="501.85" y="645.7" width="12.5" height="28" fill="#fff" stroke="#000" stroke-width="1.1"/>
<rect x="522.81" y="609.2" width="12.5" height="64.5" fill="#bdbdbd" stroke="#000" stroke-width="1.1"/>
<rect x="543.76" y="614.7" width="12.5" height="59" fill="#fff" stroke="#000" stroke-width="1.1"/>
<rect x="564.72" y="588.1" width="12.5" height="85.6" fill="#bdbdbd" stroke="#000" stroke-width="1.1"/>
<rect x="585.68" y="638.5" width="12.5" height="35.2" fill="#fff" stroke="#000" stroke-width="1.1"/>
<rect x="606.64" y="626.1" width="12.5" height="47.6" fill="#bdbdbd" stroke="#000" stroke-width="1.1"/>
<rect x="627.59" y="600.5" width="12.5" height="73.2" fill="#fff" stroke="#000" stroke-width="1.1"/>
<rect x="648.55" y="560.1" width="12.5" height="113.6" fill="#bdbdbd" stroke="#000" stroke-width="1.1"/>
<circle cx="508.1" cy="635.3" r="2.3" fill="none" stroke="#000" stroke-width="1.1"/>
<circle cx="508.1" cy="646" r="2.3" fill="none" stroke="#000" stroke-width="1.1"/>
<circle cx="508.1" cy="656.9" r="2.3" fill="none" stroke="#000" stroke-width="1.1"/>
<path d="M508.1 639.5V651.4M504.2 639.5H512M504.2 651.4H512" stroke="#000" stroke-width="1.05" fill="none"/>
<circle cx="529.06" cy="599.3" r="2.5" fill="#fff" stroke="#111" stroke-width="0.85"/>
<circle cx="529.06" cy="610.9" r="2.5" fill="#fff" stroke="#111" stroke-width="0.85"/>
<circle cx="529.06" cy="615.9" r="2.5" fill="#fff" stroke="#111" stroke-width="0.85"/>
<path d="M529.06 603V615.4M525.16 603H532.96M525.16 615.4H532.96" stroke="#000" stroke-width="1.05" fill="none"/>
<circle cx="550.01" cy="607.5" r="2.3" fill="none" stroke="#000" stroke-width="1.1"/>
<circle cx="550.01" cy="615.4" r="2.3" fill="none" stroke="#000" stroke-width="1.1"/>
<circle cx="550.01" cy="621.1" r="2.3" fill="none" stroke="#000" stroke-width="1.1"/>
<path d="M550.01 610V619.1M546.11 610H553.91M546.11 619.1H553.91" stroke="#000" stroke-width="1.05" fill="none"/>
<circle cx="570.97" cy="578.9" r="2.5" fill="#fff" stroke="#111" stroke-width="0.85"/>
<circle cx="566.77" cy="592.6" r="2.5" fill="#fff" stroke="#111" stroke-width="0.85"/>
<circle cx="575.17" cy="591.1" r="2.5" fill="#fff" stroke="#111" stroke-width="0.85"/>
<path d="M570.97 583.6V592.6M567.07 583.6H574.87M567.07 592.6H574.87" stroke="#000" stroke-width="1.05" fill="none"/>
<circle cx="587.43" cy="629.1" r="2.3" fill="none" stroke="#000" stroke-width="1.1"/>
<circle cx="596.43" cy="629.1" r="2.3" fill="none" stroke="#000" stroke-width="1.1"/>
<circle cx="591.93" cy="657.1" r="2.3" fill="none" stroke="#000" stroke-width="1.1"/>
<path d="M591.93 629.1V648.2M588.03 629.1H595.83M588.03 648.2H595.83" stroke="#000" stroke-width="1.05" fill="none"/>
<circle cx="612.89" cy="615.9" r="2.5" fill="#fff" stroke="#111" stroke-width="0.85"/>
<circle cx="612.89" cy="627.8" r="2.5" fill="#fff" stroke="#111" stroke-width="0.85"/>
<circle cx="612.89" cy="635.8" r="2.5" fill="#fff" stroke="#111" stroke-width="0.85"/>
<path d="M612.89 620.4V631.5M608.99 620.4H616.79M608.99 631.5H616.79" stroke="#000" stroke-width="1.05" fill="none"/>
<circle cx="633.84" cy="588.6" r="2.3" fill="none" stroke="#000" stroke-width="1.1"/>
<circle cx="633.84" cy="594.3" r="2.3" fill="none" stroke="#000" stroke-width="1.1"/>
<circle cx="633.84" cy="616.7" r="2.3" fill="none" stroke="#000" stroke-width="1.1"/>
<path d="M633.84 592.3V608.7M629.94 592.3H637.74M629.94 608.7H637.74" stroke="#000" stroke-width="1.05" fill="none"/>
<circle cx="654.8" cy="538" r="2.5" fill="#fff" stroke="#111" stroke-width="0.85"/>
<circle cx="654.8" cy="566.5" r="2.5" fill="#fff" stroke="#111" stroke-width="0.85"/>
<circle cx="654.8" cy="574.5" r="2.5" fill="#fff" stroke="#111" stroke-width="0.85"/>
<path d="M654.8 548.9V571.5M650.9 548.9H658.7M650.9 571.5H658.7" stroke="#000" stroke-width="1.05" fill="none"/>
<path d="M504.9 514V519.8M628.3 514V519.8M504.9 516.9H628.3" stroke="#000" stroke-width="1.5" fill="none"/>
<text x="566.6" y="512.7" font-size="9.2" text-anchor="middle"><tspan font-style="italic">P</tspan>=0.0005</text>
<path d="M504.9 527.6V533.4M588.1 527.6V533.4M504.9 530.5H588.1" stroke="#000" stroke-width="1.5" fill="none"/>
<text x="546.5" y="526.3" font-size="9.2" text-anchor="middle"><tspan font-style="italic">P</tspan>=0.51</text>
<path d="M504.9 540V545.8M547.1 540V545.8M504.9 542.9H547.1" stroke="#000" stroke-width="1.5" fill="none"/>
<text x="526" y="538.7" font-size="9.2" text-anchor="middle"><tspan font-style="italic">P</tspan>=0.01</text>
<path d="M504.9 557.2V563M531.5 557.2V563M504.9 560.1H531.5" stroke="#000" stroke-width="1.5" fill="none"/>
<text x="518.2" y="554.7" font-size="9.2" text-anchor="middle"><tspan font-style="italic">P</tspan>=0.003</text>
<path d="M546.6 557.2V563M572.7 557.2V563M546.6 560.1H572.7" stroke="#000" stroke-width="1.5" fill="none"/>
<text x="559.65" y="554.7" font-size="9.2" text-anchor="middle"><tspan font-style="italic">P</tspan>=0.02</text>
<path d="M588.1 557.2V563M614.1 557.2V563M588.1 560.1H614.1" stroke="#000" stroke-width="1.5" fill="none"/>
<text x="601.1" y="554.7" font-size="9.2" text-anchor="middle"><tspan font-style="italic">P</tspan>=0.24</text>
<path d="M630.8 528.1V533.9M656.3 528.1V533.9M630.8 531H656.3" stroke="#000" stroke-width="1.5" fill="none"/>
<text x="644.5" y="525.6" font-size="9.2" text-anchor="middle"><tspan font-style="italic">P</tspan>=0.001</text>
<text x="463.4" y="688" font-size="11.1" text-anchor="start" fill="#000" >SiRNA:</text>
<text x="518.6" y="688" font-size="11.1" text-anchor="middle" fill="#000" >Scbl</text>
<text x="561" y="688" font-size="11.1" text-anchor="middle" fill="#000" >Slc7a6</text>
<text x="602.8" y="688" font-size="11.1" text-anchor="middle" fill="#000" >Slc7a7</text>
<text x="644.45" y="688" font-size="11.1" text-anchor="middle" fill="#000" >Slc38a1</text>
<text x="6.5" y="728.4" font-size="14" text-anchor="start" fill="#000" font-weight="bold">j</text>
<rect x="123.4" y="703.7" width="8.4" height="7.4" fill="#fff" stroke="#000" stroke-width="0.9"/>
<text transform="translate(133.7 711.3) scale(1.08 1)" font-size="10.3">BMDM<tspan font-size="7.3" dy="-3.1" >Ctl</tspan><tspan dy="3.1" font-size="1">&#8203;</tspan></text>
<rect x="123.4" y="715.15" width="8.4" height="7.4" fill="#bdbdbd" stroke="#000" stroke-width="0.9"/>
<text transform="translate(133.7 722.75) scale(1.08 1)" font-size="10.3">BMDM<tspan font-size="7.3" dy="-3.1" >&#916;Gls1</tspan><tspan dy="3.1" font-size="1">&#8203;</tspan></text>
<path d="M190.6 701.5V724.75" stroke="#000" stroke-width="1"/>
<text x="193.2" y="715.23" font-size="11" text-anchor="start" fill="#000" >IL-4</text>
<path d="M34.5 733.4V895.3H201.1" stroke="#000" stroke-width="1.5" fill="none"/>
<path d="M31.9 733.6H34.5" stroke="#000" stroke-width="1.5"/>
<text x="31" y="737" font-size="9.3" text-anchor="end" fill="#000" >12</text>
<path d="M31.9 787.5H34.5" stroke="#000" stroke-width="1.5"/>
<text x="31" y="790.9" font-size="9.3" text-anchor="end" fill="#000" >8</text>
<path d="M31.9 841.2H34.5" stroke="#000" stroke-width="1.5"/>
<text x="31" y="844.6" font-size="9.3" text-anchor="end" fill="#000" >4</text>
<path d="M31.9 895H34.5" stroke="#000" stroke-width="1.5"/>
<text x="31" y="898.4" font-size="9.3" text-anchor="end" fill="#000" >0</text>
<text transform="translate(20 817) rotate(-90)" font-size="10.5" text-anchor="middle">pmTOR (x10<tspan font-size="7.3" dy="-3.1" >2</tspan><tspan dy="3.1" font-size="1">&#8203;</tspan> MFI)</text>
<rect x="38.45" y="795.7" width="12.5" height="99.3" fill="#fff" stroke="#000" stroke-width="1.1"/>
<rect x="59.34" y="797.4" width="12.5" height="97.6" fill="#bdbdbd" stroke="#000" stroke-width="1.1"/>
<rect x="80.22" y="800.1" width="12.5" height="94.9" fill="#fff" stroke="#000" stroke-width="1.1"/>
<rect x="101.11" y="806.8" width="12.5" height="88.2" fill="#bdbdbd" stroke="#000" stroke-width="1.1"/>
<rect x="121.99" y="822.2" width="12.5" height="72.8" fill="#fff" stroke="#000" stroke-width="1.1"/>
<rect x="142.88" y="834.9" width="12.5" height="60.1" fill="#bdbdbd" stroke="#000" stroke-width="1.1"/>
<rect x="163.76" y="809.8" width="12.5" height="85.2" fill="#fff" stroke="#000" stroke-width="1.1"/>
<rect x="184.65" y="821.7" width="12.5" height="73.3" fill="#bdbdbd" stroke="#000" stroke-width="1.1"/>
<circle cx="44.7" cy="785.2" r="2.3" fill="none" stroke="#000" stroke-width="1.1"/>
<circle cx="44.7" cy="798.1" r="2.3" fill="none" stroke="#000" stroke-width="1.1"/>
<circle cx="44.7" cy="803.1" r="2.3" fill="none" stroke="#000" stroke-width="1.1"/>
<path d="M44.7 789.5V801.9M40.8 789.5H48.6M40.8 801.9H48.6" stroke="#000" stroke-width="1.05" fill="none"/>
<circle cx="61.39" cy="783.3" r="2.5" fill="#fff" stroke="#111" stroke-width="0.85"/>
<circle cx="69.79" cy="784" r="2.5" fill="#fff" stroke="#111" stroke-width="0.85"/>
<circle cx="65.59" cy="822.5" r="2.5" fill="#fff" stroke="#111" stroke-width="0.85"/>
<path d="M65.59 785V809.3M61.69 785H69.49M61.69 809.3H69.49" stroke="#000" stroke-width="1.05" fill="none"/>
<circle cx="82.27" cy="789" r="2.3" fill="none" stroke="#000" stroke-width="1.1"/>
<circle cx="90.67" cy="792.4" r="2.3" fill="none" stroke="#000" stroke-width="1.1"/>
<circle cx="86.47" cy="817.5" r="2.3" fill="none" stroke="#000" stroke-width="1.1"/>
<path d="M86.47 791.4V808.8M82.57 791.4H90.37M82.57 808.8H90.37" stroke="#000" stroke-width="1.05" fill="none"/>
<circle cx="107.36" cy="790.2" r="2.5" fill="#fff" stroke="#111" stroke-width="0.85"/>
<circle cx="107.36" cy="810.6" r="2.5" fill="#fff" stroke="#111" stroke-width="0.85"/>
<circle cx="107.36" cy="817.5" r="2.5" fill="#fff" stroke="#111" stroke-width="0.85"/>
<path d="M107.36 798.1V815.5M103.46 798.1H111.26M103.46 815.5H111.26" stroke="#000" stroke-width="1.05" fill="none"/>
<circle cx="128.24" cy="812.3" r="2.3" fill="none" stroke="#000" stroke-width="1.1"/>
<circle cx="132.44" cy="824.7" r="2.3" fill="none" stroke="#000" stroke-width="1.1"/>
<circle cx="123.74" cy="829.2" r="2.3" fill="none" stroke="#000" stroke-width="1.1"/>
<path d="M128.24 816.8V827.4M124.34 816.8H132.14M124.34 827.4H132.14" stroke="#000" stroke-width="1.05" fill="none"/>
<circle cx="147.83" cy="830.9" r="2.5" fill="#fff" stroke="#111" stroke-width="0.85"/>
<circle cx="156.53" cy="834.6" r="2.5" fill="#fff" stroke="#111" stroke-width="0.85"/>
<circle cx="149.13" cy="837.9" r="2.5" fill="#fff" stroke="#111" stroke-width="0.85"/>
<path d="M149.13 832.9V837.1M145.23 832.9H153.03M145.23 837.1H153.03" stroke="#000" stroke-width="1.05" fill="none"/>
<circle cx="170.01" cy="796.2" r="2.3" fill="none" stroke="#000" stroke-width="1.1"/>
<circle cx="170.01" cy="808.1" r="2.3" fill="none" stroke="#000" stroke-width="1.1"/>
<circle cx="170.01" cy="826.2" r="2.3" fill="none" stroke="#000" stroke-width="1.1"/>
<path d="M170.01 801.1V818.7M166.11 801.1H173.91M166.11 818.7H173.91" stroke="#000" stroke-width="1.05" fill="none"/>
<circle cx="190.9" cy="816.8" r="2.5" fill="#fff" stroke="#111" stroke-width="0.85"/>
<circle cx="195.1" cy="822.2" r="2.5" fill="#fff" stroke="#111" stroke-width="0.85"/>
<circle cx="186.4" cy="824.2" r="2.5" fill="#fff" stroke="#111" stroke-width="0.85"/>
<path d="M190.9 819.2V824.2M187 819.2H194.8M187 824.2H194.8" stroke="#000" stroke-width="1.05" fill="none"/>
<path d="M41.9 730.2V736M164.8 730.2V736M41.9 733.1H164.8" stroke="#000" stroke-width="1.5" fill="none"/>
<text x="103.35" y="728.9" font-size="9.2" text-anchor="middle"><tspan font-style="italic">P</tspan>=0.20</text>
<path d="M41.9 743.6V749.4M125.1 743.6V749.4M41.9 746.5H125.1" stroke="#000" stroke-width="1.5" fill="none"/>
<text x="83.5" y="742.3" font-size="9.2" text-anchor="middle"><tspan font-style="italic">P</tspan>=0.02</text>
<path d="M41.9 756.3V762.1M84.1 756.3V762.1M41.9 759.2H84.1" stroke="#000" stroke-width="1.5" fill="none"/>
<text x="63" y="755" font-size="9.2" text-anchor="middle"><tspan font-style="italic">P</tspan>=0.68</text>
<path d="M41.9 772.9V778.7M68.5 772.9V778.7M41.9 775.8H68.5" stroke="#000" stroke-width="1.5" fill="none"/>
<text x="55.2" y="770.4" font-size="9.2" text-anchor="middle"><tspan font-style="italic">P</tspan>=0.90</text>
<path d="M83.6 772.9V778.7M109.7 772.9V778.7M83.6 775.8H109.7" stroke="#000" stroke-width="1.5" fill="none"/>
<text x="96.65" y="770.4" font-size="9.2" text-anchor="middle"><tspan font-style="italic">P</tspan>=0.54</text>
<path d="M125.1 772.9V778.7M151.1 772.9V778.7M125.1 775.8H151.1" stroke="#000" stroke-width="1.5" fill="none"/>
<text x="138.1" y="770.4" font-size="9.2" text-anchor="middle"><tspan font-style="italic">P</tspan>=0.29</text>
<path d="M166.8 772.4V778.2M192.6 772.4V778.2M166.8 775.3H192.6" stroke="#000" stroke-width="1.5" fill="none"/>
<text x="179.7" y="769.9" font-size="9.2" text-anchor="middle"><tspan font-style="italic">P</tspan>=0.29</text>
<text x="1" y="907.8" font-size="11.1" text-anchor="start" fill="#000" >SiRNA:</text>
<text x="53.6" y="907.9" font-size="11.1" text-anchor="middle" fill="#000" >Scbl</text>
<text x="96" y="907.9" font-size="11.1" text-anchor="middle" fill="#000" >Slc7a6</text>
<text x="138.6" y="907.9" font-size="11.1" text-anchor="middle" fill="#000" >Slc7a7</text>
<text x="179.8" y="907.9" font-size="11.1" text-anchor="middle" fill="#000" >Slc38a1</text>
<text x="218.6" y="728.5" font-size="14" text-anchor="start" fill="#000" font-weight="bold">k</text>
<rect x="334.6" y="703.7" width="8.4" height="7.4" fill="#fff" stroke="#000" stroke-width="0.9"/>
<text transform="translate(344.9 711.3) scale(1.08 1)" font-size="10.3">BMDM<tspan font-size="7.3" dy="-3.1" >Ctl</tspan><tspan dy="3.1" font-size="1">&#8203;</tspan></text>
<rect x="334.6" y="715.15" width="8.4" height="7.4" fill="#bdbdbd" stroke="#000" stroke-width="0.9"/>
<text transform="translate(344.9 722.75) scale(1.08 1)" font-size="10.3">BMDM<tspan font-size="7.3" dy="-3.1" >&#916;Gls1</tspan><tspan dy="3.1" font-size="1">&#8203;</tspan></text>
<path d="M402.8 701.5V724.75" stroke="#000" stroke-width="1"/>
<text x="405.4" y="715.23" font-size="11" text-anchor="start" fill="#000" >IL-4</text>
<path d="M246.5 734.2V896.2H414" stroke="#000" stroke-width="1.5" fill="none"/>
<path d="M243.9 734.8H246.5" stroke="#000" stroke-width="1.5"/>
<text x="243" y="738.2" font-size="9.3" text-anchor="end" fill="#000" >15</text>
<path d="M243.9 788.6H246.5" stroke="#000" stroke-width="1.5"/>
<text x="243" y="792" font-size="9.3" text-anchor="end" fill="#000" >10</text>
<path d="M243.9 842.4H246.5" stroke="#000" stroke-width="1.5"/>
<text x="243" y="845.8" font-size="9.3" text-anchor="end" fill="#000" >5</text>
<path d="M243.9 896.2H246.5" stroke="#000" stroke-width="1.5"/>
<text x="243" y="899.6" font-size="9.3" text-anchor="end" fill="#000" >0</text>
<text transform="translate(231.4 820) rotate(-90)" font-size="10.5" text-anchor="middle">Dbl (x10<tspan font-size="7.3" dy="-3.1" >2</tspan><tspan dy="3.1" font-size="1">&#8203;</tspan> MFI)</text>
<rect x="250.45" y="813" width="12.5" height="83.2" fill="#fff" stroke="#000" stroke-width="1.1"/>
<rect x="271.42" y="815.5" width="12.5" height="80.7" fill="#bdbdbd" stroke="#000" stroke-width="1.1"/>
<rect x="292.39" y="825" width="12.5" height="71.2" fill="#fff" stroke="#000" stroke-width="1.1"/>
<rect x="313.36" y="825.9" width="12.5" height="70.3" fill="#bdbdbd" stroke="#000" stroke-width="1.1"/>
<rect x="334.34" y="791.4" width="12.5" height="104.8" fill="#fff" stroke="#000" stroke-width="1.1"/>
<rect x="355.31" y="795.2" width="12.5" height="101" fill="#bdbdbd" stroke="#000" stroke-width="1.1"/>
<rect x="376.28" y="816" width="12.5" height="80.2" fill="#fff" stroke="#000" stroke-width="1.1"/>
<rect x="397.25" y="825.9" width="12.5" height="70.3" fill="#bdbdbd" stroke="#000" stroke-width="1.1"/>
<circle cx="256.7" cy="804.8" r="2.3" fill="none" stroke="#000" stroke-width="1.1"/>
<circle cx="252.4" cy="816.8" r="2.3" fill="none" stroke="#000" stroke-width="1.1"/>
<circle cx="260.9" cy="816.3" r="2.3" fill="none" stroke="#000" stroke-width="1.1"/>
<path d="M256.7 808.1V817.5M252.8 808.1H260.6M252.8 817.5H260.6" stroke="#000" stroke-width="1.05" fill="none"/>
<circle cx="273.67" cy="805.6" r="2.5" fill="#fff" stroke="#111" stroke-width="0.85"/>
<circle cx="281.87" cy="805.6" r="2.5" fill="#fff" stroke="#111" stroke-width="0.85"/>
<circle cx="277.67" cy="834.6" r="2.5" fill="#fff" stroke="#111" stroke-width="0.85"/>
<path d="M277.67 805.6V825M273.77 805.6H281.57M273.77 825H281.57" stroke="#000" stroke-width="1.05" fill="none"/>
<circle cx="294.24" cy="818" r="2.3" fill="none" stroke="#000" stroke-width="1.1"/>
<circle cx="302.94" cy="820.5" r="2.3" fill="none" stroke="#000" stroke-width="1.1"/>
<circle cx="298.64" cy="835.4" r="2.3" fill="none" stroke="#000" stroke-width="1.1"/>
<path d="M298.64 819.2V830.4M294.74 819.2H302.54M294.74 830.4H302.54" stroke="#000" stroke-width="1.05" fill="none"/>
<circle cx="315.41" cy="821.7" r="2.5" fill="#fff" stroke="#111" stroke-width="0.85"/>
<circle cx="324.11" cy="823.7" r="2.5" fill="#fff" stroke="#111" stroke-width="0.85"/>
<circle cx="319.61" cy="830.4" r="2.5" fill="#fff" stroke="#111" stroke-width="0.85"/>
<path d="M319.61 823V829.2M315.71 823H323.51M315.71 829.2H323.51" stroke="#000" stroke-width="1.05" fill="none"/>
<circle cx="340.59" cy="771.3" r="2.3" fill="none" stroke="#000" stroke-width="1.1"/>
<circle cx="340.59" cy="793.9" r="2.3" fill="none" stroke="#000" stroke-width="1.1"/>
<circle cx="340.59" cy="809.8" r="2.3" fill="none" stroke="#000" stroke-width="1.1"/>
<path d="M340.59 780.8V802.4M336.69 780.8H344.49M336.69 802.4H344.49" stroke="#000" stroke-width="1.05" fill="none"/>
<circle cx="361.56" cy="773.8" r="2.5" fill="#fff" stroke="#111" stroke-width="0.85"/>
<circle cx="361.56" cy="803.1" r="2.5" fill="#fff" stroke="#111" stroke-width="0.85"/>
<circle cx="361.56" cy="808.1" r="2.5" fill="#fff" stroke="#111" stroke-width="0.85"/>
<path d="M361.56 784V806.1M357.66 784H365.46M357.66 806.1H365.46" stroke="#000" stroke-width="1.05" fill="none"/>
<circle cx="382.53" cy="799.4" r="2.3" fill="none" stroke="#000" stroke-width="1.1"/>
<circle cx="378.83" cy="824.2" r="2.3" fill="none" stroke="#000" stroke-width="1.1"/>
<circle cx="387.03" cy="823.5" r="2.3" fill="none" stroke="#000" stroke-width="1.1"/>
<path d="M382.53 807.3V824.2M378.63 807.3H386.43M378.63 824.2H386.43" stroke="#000" stroke-width="1.05" fill="none"/>
<circle cx="403.5" cy="815.5" r="2.5" fill="#fff" stroke="#111" stroke-width="0.85"/>
<circle cx="399.8" cy="830.4" r="2.5" fill="#fff" stroke="#111" stroke-width="0.85"/>
<circle cx="407.2" cy="829.7" r="2.5" fill="#fff" stroke="#111" stroke-width="0.85"/>
<path d="M403.5 820.5V831.2M399.6 820.5H407.4M399.6 831.2H407.4" stroke="#000" stroke-width="1.05" fill="none"/>
<path d="M253.4 729V734.8M376.3 729V734.8M253.4 731.9H376.3" stroke="#000" stroke-width="1.5" fill="none"/>
<text x="314.85" y="727.7" font-size="9.2" text-anchor="middle"><tspan font-style="italic">P</tspan>=0.77</text>
<path d="M253.4 742.4V748.2M336.8 742.4V748.2M253.4 745.3H336.8" stroke="#000" stroke-width="1.5" fill="none"/>
<text x="295.1" y="741.1" font-size="9.2" text-anchor="middle"><tspan font-style="italic">P</tspan>=0.07</text>
<path d="M253.4 753.8V759.6M295.6 753.8V759.6M253.4 756.7H295.6" stroke="#000" stroke-width="1.5" fill="none"/>
<text x="274.5" y="752.5" font-size="9.2" text-anchor="middle"><tspan font-style="italic">P</tspan>=0.29</text>
<path d="M254.2 771.7V777.5M279.7 771.7V777.5M254.2 774.6H279.7" stroke="#000" stroke-width="1.5" fill="none"/>
<text x="266.95" y="769.2" font-size="9.2" text-anchor="middle"><tspan font-style="italic">P</tspan>=0.82</text>
<path d="M295.6 771.7V777.5M321.4 771.7V777.5M295.6 774.6H321.4" stroke="#000" stroke-width="1.5" fill="none"/>
<text x="308.5" y="769.2" font-size="9.2" text-anchor="middle"><tspan font-style="italic">P</tspan>=0.95</text>
<path d="M336.8 760V765.8M362.6 760V765.8M336.8 762.9H362.6" stroke="#000" stroke-width="1.5" fill="none"/>
<text x="349.7" y="757.5" font-size="9.2" text-anchor="middle"><tspan font-style="italic">P</tspan>=0.75</text>
<path d="M378.3 780.3V786.1M404.3 780.3V786.1M378.3 783.2H404.3" stroke="#000" stroke-width="1.5" fill="none"/>
<text x="391.3" y="777.8" font-size="9.2" text-anchor="middle"><tspan font-style="italic">P</tspan>=0.39</text>
<text x="213.5" y="911" font-size="11.1" text-anchor="start" fill="#000" >SiRNA:</text>
<text x="266.1" y="911" font-size="11.1" text-anchor="middle" fill="#000" >Scbl</text>
<text x="308.7" y="911" font-size="11.1" text-anchor="middle" fill="#000" >Slc7a6</text>
<text x="351.5" y="911" font-size="11.1" text-anchor="middle" fill="#000" >Slc7a7</text>
<text x="392.5" y="911" font-size="11.1" text-anchor="middle" fill="#000" >Slc38a1</text>
<text x="424.2" y="728.5" font-size="14" text-anchor="start" fill="#000" font-weight="bold">l</text>
<rect x="450.6" y="704.5" width="8.4" height="7.4" fill="#fff" stroke="#000" stroke-width="0.9"/>
<text transform="translate(460.9 712.1) scale(1.08 1)" font-size="10.3">BMDM<tspan font-size="7.3" dy="-3.1" font-style="italic">Scbl</tspan><tspan dy="3.1" font-size="1">&#8203;</tspan></text>
<rect x="450.6" y="715.95" width="8.4" height="7.4" fill="#bdbdbd" stroke="#000" stroke-width="0.9"/>
<text transform="translate(460.9 723.55) scale(1.08 1)" font-size="10.3">BMDM<tspan font-size="7.3" dy="-3.1" font-style="italic">&#916;Slc7a7</tspan><tspan dy="3.1" font-size="1">&#8203;</tspan></text>
<path d="M452.4 734.3V895.9H503.8" stroke="#000" stroke-width="1.5" fill="none"/>
<path d="M449.8 734.9H452.4" stroke="#000" stroke-width="1.5"/>
<text x="448.9" y="738.3" font-size="9.3" text-anchor="end" fill="#000" >2</text>
<path d="M449.8 815.2H452.4" stroke="#000" stroke-width="1.5"/>
<text x="448.9" y="818.6" font-size="9.3" text-anchor="end" fill="#000" >1</text>
<path d="M449.8 895.7H452.4" stroke="#000" stroke-width="1.5"/>
<text x="448.9" y="899.1" font-size="9.3" text-anchor="end" fill="#000" >0</text>
<text transform="translate(437.2 816) rotate(-90)" font-size="10.9" text-anchor="middle">ATP production (fold change)</text>
<rect x="457.1" y="816" width="16.3" height="79.7" fill="#fff" stroke="#000" stroke-width="1.1"/>
<rect x="483.1" y="833.6" width="15.6" height="62.1" fill="#bdbdbd" stroke="#000" stroke-width="1.1"/>
<circle cx="465.4" cy="808" r="2.3" fill="none" stroke="#000" stroke-width="1.1"/>
<circle cx="465.4" cy="816.7" r="2.3" fill="none" stroke="#000" stroke-width="1.1"/>
<circle cx="465.4" cy="823.4" r="2.3" fill="none" stroke="#000" stroke-width="1.1"/>
<path d="M465.25 810.3V821.4M461.35 810.3H469.15M461.35 821.4H469.15" stroke="#000" stroke-width="1.05" fill="none"/>
<circle cx="490.8" cy="827.2" r="2.5" fill="#fff" stroke="#111" stroke-width="0.85"/>
<circle cx="488.8" cy="835.1" r="2.5" fill="#fff" stroke="#111" stroke-width="0.85"/>
<circle cx="491.7" cy="840.4" r="2.5" fill="#fff" stroke="#111" stroke-width="0.85"/>
<path d="M490.9 828.4V838.6M487 828.4H494.8M487 838.6H494.8" stroke="#000" stroke-width="1.05" fill="none"/>
<path d="M465.5 789.4V795.2M491 789.4V795.2M465.5 792.3H491" stroke="#000" stroke-width="1.5" fill="none"/>
<text x="478.25" y="786.9" font-size="9.2" text-anchor="middle"><tspan font-style="italic">P</tspan>=0.04</text>
<text x="527" y="728.5" font-size="14" text-anchor="start" fill="#000" font-weight="bold">m</text>
<rect x="558.4" y="704.7" width="8.4" height="7.4" fill="#fff" stroke="#000" stroke-width="0.9"/>
<text transform="translate(568.7 712.3) scale(1.08 1)" font-size="10.3">PCM<tspan font-size="7.3" dy="-3.1" font-style="italic">Scbl</tspan><tspan dy="3.1" font-size="1">&#8203;</tspan></text>
<rect x="558.4" y="716.15" width="8.4" height="7.4" fill="#bdbdbd" stroke="#000" stroke-width="0.9"/>
<text transform="translate(568.7 723.75) scale(1.08 1)" font-size="10.3">PCM<tspan font-size="7.3" dy="-3.1" font-style="italic">&#916;Slc7a7</tspan><tspan dy="3.1" font-size="1">&#8203;</tspan></text>
<path d="M559.2 734.6V895.9H644.4" stroke="#000" stroke-width="1.5" fill="none"/>
<path d="M556.6 735.2H559.2" stroke="#000" stroke-width="1.5"/>
<text x="555.7" y="738.6" font-size="9.3" text-anchor="end" fill="#000" >80</text>
<path d="M556.6 775.3H559.2" stroke="#000" stroke-width="1.5"/>
<text x="555.7" y="778.7" font-size="9.3" text-anchor="end" fill="#000" >60</text>
<path d="M556.6 815.5H559.2" stroke="#000" stroke-width="1.5"/>
<text x="555.7" y="818.9" font-size="9.3" text-anchor="end" fill="#000" >40</text>
<path d="M556.6 855.5H559.2" stroke="#000" stroke-width="1.5"/>
<text x="555.7" y="858.9" font-size="9.3" text-anchor="end" fill="#000" >20</text>
<path d="M556.6 895.7H559.2" stroke="#000" stroke-width="1.5"/>
<text x="555.7" y="899.1" font-size="9.3" text-anchor="end" fill="#000" >0</text>
<text transform="translate(544 816) rotate(-90)" font-size="10.5" text-anchor="middle">Efferocytic index</text>
<rect x="563.7" y="856.6" width="12.5" height="39.1" fill="#fff" stroke="#000" stroke-width="1.1"/>
<rect x="584.7" y="866.6" width="12.4" height="29.1" fill="#bdbdbd" stroke="#000" stroke-width="1.1"/>
<rect x="605.9" y="756.9" width="12.4" height="138.8" fill="#fff" stroke="#000" stroke-width="1.1"/>
<rect x="626.9" y="785.3" width="12.4" height="110.4" fill="#bdbdbd" stroke="#000" stroke-width="1.1"/>
<circle cx="564.7" cy="855.5" r="2.3" fill="none" stroke="#000" stroke-width="1.1"/>
<circle cx="574.3" cy="855.5" r="2.3" fill="none" stroke="#000" stroke-width="1.1"/>
<circle cx="566.2" cy="859.3" r="2.3" fill="none" stroke="#000" stroke-width="1.1"/>
<path d="M569.95 855V858.2M566.05 855H573.85M566.05 858.2H573.85" stroke="#000" stroke-width="1.05" fill="none"/>
<circle cx="585.7" cy="864.3" r="2.5" fill="#fff" stroke="#111" stroke-width="0.85"/>
<circle cx="595.9" cy="865.2" r="2.5" fill="#fff" stroke="#111" stroke-width="0.85"/>
<circle cx="587.2" cy="869.3" r="2.5" fill="#fff" stroke="#111" stroke-width="0.85"/>
<path d="M590.9 865V868.2M587 865H594.8M587 868.2H594.8" stroke="#000" stroke-width="1.05" fill="none"/>
<circle cx="612" cy="749" r="2.3" fill="none" stroke="#000" stroke-width="1.1"/>
<circle cx="607" cy="757.7" r="2.3" fill="none" stroke="#000" stroke-width="1.1"/>
<circle cx="616.7" cy="758.3" r="2.3" fill="none" stroke="#000" stroke-width="1.1"/>
<path d="M612.1 753.4V760.1M608.2 753.4H616M608.2 760.1H616" stroke="#000" stroke-width="1.05" fill="none"/>
<circle cx="633.9" cy="778.8" r="2.5" fill="#fff" stroke="#111" stroke-width="0.85"/>
<circle cx="633.9" cy="784.6" r="2.5" fill="#fff" stroke="#111" stroke-width="0.85"/>
<circle cx="633.9" cy="790.4" r="2.5" fill="#fff" stroke="#111" stroke-width="0.85"/>
<path d="M633.1 781.1V789.3M629.2 781.1H637M629.2 789.3H637" stroke="#000" stroke-width="1.05" fill="none"/>
<path d="M567.6 822.9V828.7M593.5 822.9V828.7M567.6 825.8H593.5" stroke="#000" stroke-width="1.5" fill="none"/>
<text x="580.55" y="820.4" font-size="9.2" text-anchor="middle"><tspan font-style="italic">P</tspan>=0.01</text>
<path d="M609.8 737.9V743.7M635.6 737.9V743.7M609.8 740.8H635.6" stroke="#000" stroke-width="1.5" fill="none"/>
<text x="622.7" y="735.4" font-size="9.2" text-anchor="middle"><tspan font-style="italic">P</tspan>=0.01</text>
<text x="580.3" y="909.4" font-size="11.1" text-anchor="middle" fill="#000" >1<tspan font-size="7.3" dy="-3.1" >st</tspan><tspan dy="3.1" font-size="1">&#8203;</tspan> AC</text>
<text x="622.1" y="909.4" font-size="11.1" text-anchor="middle" fill="#000" >2<tspan font-size="7.3" dy="-3.1" >nd</tspan><tspan dy="3.1" font-size="1">&#8203;</tspan> AC</text>
<text x="4.5" y="262.1" font-size="14" text-anchor="start" fill="#000" font-weight="bold">d</text>
<rect x="5.25" y="327.85" width="10.55" height="10.55" fill="rgb(252,227,226)"/>
<rect x="16.7" y="327.85" width="10.55" height="10.55" fill="rgb(247,88,81)"/>
<rect x="28.15" y="327.85" width="10.55" height="10.55" fill="rgb(252,238,237)"/>
<rect x="39.6" y="327.85" width="10.55" height="10.55" fill="rgb(194,194,252)"/>
<rect x="51.05" y="327.85" width="10.55" height="10.55" fill="rgb(121,121,251)"/>
<rect x="62.5" y="327.85" width="10.55" height="10.55" fill="rgb(247,88,81)"/>
<rect x="73.95" y="327.85" width="10.55" height="10.55" fill="rgb(250,171,168)"/>
<rect x="85.4" y="327.85" width="10.55" height="10.55" fill="rgb(245,33,23)"/>
<rect x="96.85" y="327.85" width="10.55" height="10.55" fill="rgb(252,227,226)"/>
<rect x="108.3" y="327.85" width="10.55" height="10.55" fill="rgb(133,133,251)"/>
<rect x="119.75" y="327.85" width="10.55" height="10.55" fill="rgb(24,24,250)"/>
<rect x="131.2" y="327.85" width="10.55" height="10.55" fill="rgb(252,227,226)"/>
<rect x="142.65" y="327.85" width="10.55" height="10.55" fill="rgb(248,116,110)"/>
<rect x="154.1" y="327.85" width="10.55" height="10.55" fill="rgb(212,212,252)"/>
<rect x="165.55" y="327.85" width="10.55" height="10.55" fill="rgb(236,236,252)"/>
<rect x="177" y="327.85" width="10.55" height="10.55" fill="rgb(248,132,127)"/>
<rect x="188.45" y="327.85" width="10.55" height="10.55" fill="rgb(252,243,243)"/>
<rect x="199.9" y="327.85" width="10.55" height="10.55" fill="rgb(247,105,98)"/>
<text x="205.17" y="336.43" font-size="9" text-anchor="middle">#</text>
<rect x="211.35" y="327.85" width="10.55" height="10.55" fill="rgb(248,127,121)"/>
<text x="216.62" y="336.43" font-size="9" text-anchor="middle">#</text>
<rect x="222.8" y="327.85" width="10.55" height="10.55" fill="rgb(246,60,52)"/>
<text x="228.07" y="336.43" font-size="9" text-anchor="middle">#</text>
<text x="236.6" y="336.8" font-size="10.4" text-anchor="start" fill="#000" >Slc1a5</text>
<rect x="5.25" y="339.3" width="10.55" height="10.55" fill="rgb(246,71,63)"/>
<rect x="16.7" y="339.3" width="10.55" height="10.55" fill="rgb(250,177,173)"/>
<rect x="28.15" y="339.3" width="10.55" height="10.55" fill="rgb(250,177,173)"/>
<rect x="39.6" y="339.3" width="10.55" height="10.55" fill="rgb(251,216,214)"/>
<rect x="51.05" y="339.3" width="10.55" height="10.55" fill="rgb(242,242,252)"/>
<rect x="62.5" y="339.3" width="10.55" height="10.55" fill="rgb(182,182,252)"/>
<rect x="73.95" y="339.3" width="10.55" height="10.55" fill="rgb(12,12,250)"/>
<rect x="85.4" y="339.3" width="10.55" height="10.55" fill="rgb(230,230,252)"/>
<rect x="96.85" y="339.3" width="10.55" height="10.55" fill="rgb(252,249,249)"/>
<rect x="108.3" y="339.3" width="10.55" height="10.55" fill="rgb(248,132,127)"/>
<rect x="119.75" y="339.3" width="10.55" height="10.55" fill="rgb(103,103,251)"/>
<rect x="131.2" y="339.3" width="10.55" height="10.55" fill="rgb(224,224,252)"/>
<rect x="142.65" y="339.3" width="10.55" height="10.55" fill="rgb(247,99,92)"/>
<rect x="154.1" y="339.3" width="10.55" height="10.55" fill="rgb(251,199,197)"/>
<rect x="165.55" y="339.3" width="10.55" height="10.55" fill="rgb(249,166,162)"/>
<rect x="177" y="339.3" width="10.55" height="10.55" fill="rgb(245,44,34)"/>
<rect x="188.45" y="339.3" width="10.55" height="10.55" fill="rgb(246,66,57)"/>
<rect x="199.9" y="339.3" width="10.55" height="10.55" fill="rgb(250,188,185)"/>
<rect x="211.35" y="339.3" width="10.55" height="10.55" fill="rgb(247,105,98)"/>
<rect x="222.8" y="339.3" width="10.55" height="10.55" fill="rgb(246,66,57)"/>
<text x="236.6" y="348.25" font-size="10.4" text-anchor="start" fill="#000" >Slc3a2</text>
<rect x="5.25" y="350.75" width="10.55" height="10.55" fill="rgb(12,12,250)"/>
<rect x="16.7" y="350.75" width="10.55" height="10.55" fill="rgb(206,206,252)"/>
<rect x="28.15" y="350.75" width="10.55" height="10.55" fill="rgb(12,12,250)"/>
<rect x="39.6" y="350.75" width="10.55" height="10.55" fill="rgb(253,255,255)"/>
<rect x="51.05" y="350.75" width="10.55" height="10.55" fill="rgb(133,133,251)"/>
<rect x="62.5" y="350.75" width="10.55" height="10.55" fill="rgb(245,33,23)"/>
<rect x="73.95" y="350.75" width="10.55" height="10.55" fill="rgb(115,115,251)"/>
<rect x="85.4" y="350.75" width="10.55" height="10.55" fill="rgb(121,121,251)"/>
<rect x="96.85" y="350.75" width="10.55" height="10.55" fill="rgb(206,206,252)"/>
<rect x="108.3" y="350.75" width="10.55" height="10.55" fill="rgb(248,132,127)"/>
<rect x="119.75" y="350.75" width="10.55" height="10.55" fill="rgb(245,44,34)"/>
<rect x="131.2" y="350.75" width="10.55" height="10.55" fill="rgb(246,66,57)"/>
<rect x="142.65" y="350.75" width="10.55" height="10.55" fill="rgb(245,44,34)"/>
<rect x="154.1" y="350.75" width="10.55" height="10.55" fill="rgb(246,77,69)"/>
<rect x="165.55" y="350.75" width="10.55" height="10.55" fill="rgb(121,121,251)"/>
<rect x="177" y="350.75" width="10.55" height="10.55" fill="rgb(246,66,57)"/>
<rect x="188.45" y="350.75" width="10.55" height="10.55" fill="rgb(252,241,240)"/>
<rect x="199.9" y="350.75" width="10.55" height="10.55" fill="rgb(248,116,110)"/>
<rect x="211.35" y="350.75" width="10.55" height="10.55" fill="rgb(246,77,69)"/>
<rect x="222.8" y="350.75" width="10.55" height="10.55" fill="rgb(115,115,251)"/>
<text x="236.6" y="359.7" font-size="10.4" text-anchor="start" fill="#000" >Slc7a1</text>
<rect x="5.25" y="362.2" width="10.55" height="10.55" fill="rgb(194,194,252)"/>
<rect x="16.7" y="362.2" width="10.55" height="10.55" fill="rgb(12,12,250)"/>
<rect x="28.15" y="362.2" width="10.55" height="10.55" fill="rgb(12,12,250)"/>
<rect x="39.6" y="362.2" width="10.55" height="10.55" fill="rgb(212,212,252)"/>
<rect x="51.05" y="362.2" width="10.55" height="10.55" fill="rgb(12,12,250)"/>
<rect x="62.5" y="362.2" width="10.55" height="10.55" fill="rgb(12,12,250)"/>
<rect x="73.95" y="362.2" width="10.55" height="10.55" fill="rgb(12,12,250)"/>
<rect x="85.4" y="362.2" width="10.55" height="10.55" fill="rgb(90,90,250)"/>
<rect x="96.85" y="362.2" width="10.55" height="10.55" fill="rgb(253,255,255)"/>
<rect x="108.3" y="362.2" width="10.55" height="10.55" fill="rgb(121,121,251)"/>
<rect x="119.75" y="362.2" width="10.55" height="10.55" fill="rgb(12,12,250)"/>
<rect x="131.2" y="362.2" width="10.55" height="10.55" fill="rgb(252,227,226)"/>
<text x="136.47" y="369.88" font-size="5.2" text-anchor="middle">&#9733;</text>
<rect x="142.65" y="362.2" width="10.55" height="10.55" fill="rgb(251,221,220)"/>
<text x="147.92" y="369.88" font-size="5.2" text-anchor="middle">&#9733;</text>
<rect x="154.1" y="362.2" width="10.55" height="10.55" fill="rgb(249,166,162)"/>
<text x="159.38" y="369.88" font-size="5.2" text-anchor="middle">&#9733;</text>
<rect x="165.55" y="362.2" width="10.55" height="10.55" fill="rgb(163,163,251)"/>
<rect x="177" y="362.2" width="10.55" height="10.55" fill="rgb(194,194,252)"/>
<rect x="188.45" y="362.2" width="10.55" height="10.55" fill="rgb(242,242,252)"/>
<rect x="199.9" y="362.2" width="10.55" height="10.55" fill="rgb(246,82,75)"/>
<text x="205.17" y="370.78" font-size="9" text-anchor="middle">#</text>
<rect x="211.35" y="362.2" width="10.55" height="10.55" fill="rgb(253,255,255)"/>
<text x="216.62" y="370.78" font-size="9" text-anchor="middle">#</text>
<rect x="222.8" y="362.2" width="10.55" height="10.55" fill="rgb(245,49,40)"/>
<text x="228.07" y="370.78" font-size="9" text-anchor="middle">#</text>
<text x="236.6" y="371.15" font-size="10.4" text-anchor="start" fill="#000" >Slc7a11</text>
<rect x="5.25" y="373.65" width="10.55" height="10.55" fill="rgb(12,12,250)"/>
<rect x="16.7" y="373.65" width="10.55" height="10.55" fill="rgb(250,188,185)"/>
<rect x="28.15" y="373.65" width="10.55" height="10.55" fill="rgb(245,33,23)"/>
<rect x="39.6" y="373.65" width="10.55" height="10.55" fill="rgb(212,212,252)"/>
<rect x="51.05" y="373.65" width="10.55" height="10.55" fill="rgb(12,12,250)"/>
<rect x="62.5" y="373.65" width="10.55" height="10.55" fill="rgb(12,12,250)"/>
<rect x="73.95" y="373.65" width="10.55" height="10.55" fill="rgb(12,12,250)"/>
<rect x="85.4" y="373.65" width="10.55" height="10.55" fill="rgb(12,12,250)"/>
<rect x="96.85" y="373.65" width="10.55" height="10.55" fill="rgb(12,12,250)"/>
<rect x="108.3" y="373.65" width="10.55" height="10.55" fill="rgb(12,12,250)"/>
<rect x="119.75" y="373.65" width="10.55" height="10.55" fill="rgb(12,12,250)"/>
<rect x="131.2" y="373.65" width="10.55" height="10.55" fill="rgb(12,12,250)"/>
<rect x="142.65" y="373.65" width="10.55" height="10.55" fill="rgb(12,12,250)"/>
<rect x="154.1" y="373.65" width="10.55" height="10.55" fill="rgb(12,12,250)"/>
<rect x="165.55" y="373.65" width="10.55" height="10.55" fill="rgb(12,12,250)"/>
<rect x="177" y="373.65" width="10.55" height="10.55" fill="rgb(251,221,220)"/>
<rect x="188.45" y="373.65" width="10.55" height="10.55" fill="rgb(245,33,23)"/>
<rect x="199.9" y="373.65" width="10.55" height="10.55" fill="rgb(12,12,250)"/>
<rect x="211.35" y="373.65" width="10.55" height="10.55" fill="rgb(12,12,250)"/>
<rect x="222.8" y="373.65" width="10.55" height="10.55" fill="rgb(12,12,250)"/>
<text x="236.6" y="382.6" font-size="10.4" text-anchor="start" fill="#000" >Slc7a5</text>
<rect x="5.25" y="385.1" width="10.55" height="10.55" fill="rgb(12,12,250)"/>
<rect x="16.7" y="385.1" width="10.55" height="10.55" fill="rgb(182,182,252)"/>
<rect x="28.15" y="385.1" width="10.55" height="10.55" fill="rgb(163,163,251)"/>
<rect x="39.6" y="385.1" width="10.55" height="10.55" fill="rgb(224,224,252)"/>
<rect x="51.05" y="385.1" width="10.55" height="10.55" fill="rgb(12,12,250)"/>
<rect x="62.5" y="385.1" width="10.55" height="10.55" fill="rgb(242,242,252)"/>
<rect x="73.95" y="385.1" width="10.55" height="10.55" fill="rgb(12,12,250)"/>
<rect x="85.4" y="385.1" width="10.55" height="10.55" fill="rgb(12,12,250)"/>
<rect x="96.85" y="385.1" width="10.55" height="10.55" fill="rgb(12,12,250)"/>
<rect x="108.3" y="385.1" width="10.55" height="10.55" fill="rgb(12,12,250)"/>
<rect x="119.75" y="385.1" width="10.55" height="10.55" fill="rgb(224,224,252)"/>
<rect x="131.2" y="385.1" width="10.55" height="10.55" fill="rgb(12,12,250)"/>
<rect x="142.65" y="385.1" width="10.55" height="10.55" fill="rgb(248,116,110)"/>
<rect x="154.1" y="385.1" width="10.55" height="10.55" fill="rgb(12,12,250)"/>
<rect x="165.55" y="385.1" width="10.55" height="10.55" fill="rgb(252,227,226)"/>
<text x="170.82" y="393.68" font-size="9" text-anchor="middle">§</text>
<rect x="177" y="385.1" width="10.55" height="10.55" fill="rgb(250,177,173)"/>
<text x="182.28" y="393.68" font-size="9" text-anchor="middle">§</text>
<rect x="188.45" y="385.1" width="10.55" height="10.55" fill="rgb(245,55,46)"/>
<text x="193.72" y="393.68" font-size="9" text-anchor="middle">§</text>
<rect x="199.9" y="385.1" width="10.55" height="10.55" fill="rgb(242,242,252)"/>
<rect x="211.35" y="385.1" width="10.55" height="10.55" fill="rgb(12,12,250)"/>
<rect x="222.8" y="385.1" width="10.55" height="10.55" fill="rgb(248,132,127)"/>
<text x="236.6" y="394.05" font-size="10.4" text-anchor="start" fill="#000" >Slc7a6</text>
<rect x="5.25" y="396.55" width="10.55" height="10.55" fill="rgb(250,182,179)"/>
<rect x="16.7" y="396.55" width="10.55" height="10.55" fill="rgb(206,206,252)"/>
<rect x="28.15" y="396.55" width="10.55" height="10.55" fill="rgb(248,132,127)"/>
<rect x="39.6" y="396.55" width="10.55" height="10.55" fill="rgb(194,194,252)"/>
<rect x="51.05" y="396.55" width="10.55" height="10.55" fill="rgb(245,55,46)"/>
<text x="56.32" y="405.12" font-size="9" text-anchor="middle">§</text>
<rect x="62.5" y="396.55" width="10.55" height="10.55" fill="rgb(247,105,98)"/>
<text x="67.77" y="405.12" font-size="9" text-anchor="middle">§</text>
<rect x="73.95" y="396.55" width="10.55" height="10.55" fill="rgb(249,155,150)"/>
<text x="79.22" y="405.12" font-size="9" text-anchor="middle">#</text>
<rect x="85.4" y="396.55" width="10.55" height="10.55" fill="rgb(245,44,34)"/>
<text x="90.67" y="405.12" font-size="9" text-anchor="middle">#</text>
<rect x="96.85" y="396.55" width="10.55" height="10.55" fill="rgb(252,232,231)"/>
<rect x="108.3" y="396.55" width="10.55" height="10.55" fill="rgb(252,227,226)"/>
<rect x="119.75" y="396.55" width="10.55" height="10.55" fill="rgb(246,66,57)"/>
<rect x="131.2" y="396.55" width="10.55" height="10.55" fill="rgb(12,12,250)"/>
<rect x="142.65" y="396.55" width="10.55" height="10.55" fill="rgb(206,206,252)"/>
<rect x="154.1" y="396.55" width="10.55" height="10.55" fill="rgb(224,224,252)"/>
<rect x="165.55" y="396.55" width="10.55" height="10.55" fill="rgb(54,54,250)"/>
<rect x="177" y="396.55" width="10.55" height="10.55" fill="rgb(251,210,208)"/>
<rect x="188.45" y="396.55" width="10.55" height="10.55" fill="rgb(90,90,250)"/>
<rect x="199.9" y="396.55" width="10.55" height="10.55" fill="rgb(248,248,252)"/>
<rect x="211.35" y="396.55" width="10.55" height="10.55" fill="rgb(251,199,197)"/>
<rect x="222.8" y="396.55" width="10.55" height="10.55" fill="rgb(163,163,251)"/>
<text x="236.6" y="405.5" font-size="10.4" text-anchor="start" fill="#000" >Slc7a7</text>
<rect x="5.25" y="408" width="10.55" height="10.55" fill="rgb(248,132,127)"/>
<rect x="16.7" y="408" width="10.55" height="10.55" fill="rgb(121,121,251)"/>
<rect x="28.15" y="408" width="10.55" height="10.55" fill="rgb(249,149,144)"/>
<rect x="39.6" y="408" width="10.55" height="10.55" fill="rgb(249,144,139)"/>
<rect x="51.05" y="408" width="10.55" height="10.55" fill="rgb(247,88,81)"/>
<rect x="62.5" y="408" width="10.55" height="10.55" fill="rgb(253,255,255)"/>
<rect x="73.95" y="408" width="10.55" height="10.55" fill="rgb(12,12,250)"/>
<rect x="85.4" y="408" width="10.55" height="10.55" fill="rgb(245,33,23)"/>
<rect x="96.85" y="408" width="10.55" height="10.55" fill="rgb(249,144,139)"/>
<rect x="108.3" y="408" width="10.55" height="10.55" fill="rgb(12,12,250)"/>
<rect x="119.75" y="408" width="10.55" height="10.55" fill="rgb(12,12,250)"/>
<rect x="131.2" y="408" width="10.55" height="10.55" fill="rgb(12,12,250)"/>
<rect x="142.65" y="408" width="10.55" height="10.55" fill="rgb(109,109,251)"/>
<rect x="154.1" y="408" width="10.55" height="10.55" fill="rgb(245,33,23)"/>
<rect x="165.55" y="408" width="10.55" height="10.55" fill="rgb(248,138,133)"/>
<text x="170.82" y="416.57" font-size="9" text-anchor="middle">§</text>
<rect x="177" y="408" width="10.55" height="10.55" fill="rgb(247,110,104)"/>
<text x="182.28" y="416.57" font-size="9" text-anchor="middle">§</text>
<rect x="188.45" y="408" width="10.55" height="10.55" fill="rgb(245,44,34)"/>
<text x="193.72" y="416.57" font-size="9" text-anchor="middle">§</text>
<rect x="199.9" y="408" width="10.55" height="10.55" fill="rgb(250,177,173)"/>
<rect x="211.35" y="408" width="10.55" height="10.55" fill="rgb(206,206,252)"/>
<rect x="222.8" y="408" width="10.55" height="10.55" fill="rgb(247,105,98)"/>
<text x="236.6" y="416.95" font-size="10.4" text-anchor="start" fill="#000" >Slc25a12</text>
<rect x="5.25" y="419.45" width="10.55" height="10.55" fill="rgb(248,116,110)"/>
<rect x="16.7" y="419.45" width="10.55" height="10.55" fill="rgb(247,94,86)"/>
<rect x="28.15" y="419.45" width="10.55" height="10.55" fill="rgb(121,121,251)"/>
<rect x="39.6" y="419.45" width="10.55" height="10.55" fill="rgb(251,210,208)"/>
<rect x="51.05" y="419.45" width="10.55" height="10.55" fill="rgb(249,166,162)"/>
<rect x="62.5" y="419.45" width="10.55" height="10.55" fill="rgb(246,66,57)"/>
<rect x="73.95" y="419.45" width="10.55" height="10.55" fill="rgb(133,133,251)"/>
<rect x="85.4" y="419.45" width="10.55" height="10.55" fill="rgb(212,212,252)"/>
<rect x="96.85" y="419.45" width="10.55" height="10.55" fill="rgb(245,33,23)"/>
<rect x="108.3" y="419.45" width="10.55" height="10.55" fill="rgb(248,132,127)"/>
<rect x="119.75" y="419.45" width="10.55" height="10.55" fill="rgb(246,77,69)"/>
<rect x="131.2" y="419.45" width="10.55" height="10.55" fill="rgb(248,132,127)"/>
<rect x="142.65" y="419.45" width="10.55" height="10.55" fill="rgb(249,166,162)"/>
<rect x="154.1" y="419.45" width="10.55" height="10.55" fill="rgb(12,12,250)"/>
<rect x="165.55" y="419.45" width="10.55" height="10.55" fill="rgb(248,138,133)"/>
<text x="170.82" y="428.03" font-size="9" text-anchor="middle">§</text>
<rect x="177" y="419.45" width="10.55" height="10.55" fill="rgb(109,109,251)"/>
<text x="182.28" y="428.03" font-size="9" text-anchor="middle">§</text>
<rect x="188.45" y="419.45" width="10.55" height="10.55" fill="rgb(253,255,255)"/>
<text x="193.72" y="428.03" font-size="9" text-anchor="middle">§</text>
<rect x="199.9" y="419.45" width="10.55" height="10.55" fill="rgb(246,60,52)"/>
<rect x="211.35" y="419.45" width="10.55" height="10.55" fill="rgb(245,49,40)"/>
<rect x="222.8" y="419.45" width="10.55" height="10.55" fill="rgb(169,169,251)"/>
<text x="236.6" y="428.4" font-size="10.4" text-anchor="start" fill="#000" >Slc25a18</text>
<rect x="5.25" y="430.9" width="10.55" height="10.55" fill="rgb(12,12,250)"/>
<rect x="16.7" y="430.9" width="10.55" height="10.55" fill="rgb(245,33,23)"/>
<rect x="28.15" y="430.9" width="10.55" height="10.55" fill="rgb(121,121,251)"/>
<rect x="39.6" y="430.9" width="10.55" height="10.55" fill="rgb(200,200,252)"/>
<rect x="51.05" y="430.9" width="10.55" height="10.55" fill="rgb(12,12,250)"/>
<rect x="62.5" y="430.9" width="10.55" height="10.55" fill="rgb(12,12,250)"/>
<rect x="73.95" y="430.9" width="10.55" height="10.55" fill="rgb(249,160,156)"/>
<text x="79.22" y="439.48" font-size="9" text-anchor="middle">#</text>
<rect x="85.4" y="430.9" width="10.55" height="10.55" fill="rgb(245,44,34)"/>
<text x="90.67" y="439.48" font-size="9" text-anchor="middle">#</text>
<rect x="96.85" y="430.9" width="10.55" height="10.55" fill="rgb(97,97,251)"/>
<rect x="108.3" y="430.9" width="10.55" height="10.55" fill="rgb(12,12,250)"/>
<rect x="119.75" y="430.9" width="10.55" height="10.55" fill="rgb(12,12,250)"/>
<rect x="131.2" y="430.9" width="10.55" height="10.55" fill="rgb(121,121,251)"/>
<rect x="142.65" y="430.9" width="10.55" height="10.55" fill="rgb(133,133,251)"/>
<rect x="154.1" y="430.9" width="10.55" height="10.55" fill="rgb(139,139,251)"/>
<rect x="165.55" y="430.9" width="10.55" height="10.55" fill="rgb(194,194,252)"/>
<rect x="177" y="430.9" width="10.55" height="10.55" fill="rgb(139,139,251)"/>
<rect x="188.45" y="430.9" width="10.55" height="10.55" fill="rgb(12,12,250)"/>
<rect x="199.9" y="430.9" width="10.55" height="10.55" fill="rgb(121,121,251)"/>
<text x="205.17" y="439.48" font-size="9" text-anchor="middle">#</text>
<rect x="211.35" y="430.9" width="10.55" height="10.55" fill="rgb(249,155,150)"/>
<text x="216.62" y="439.48" font-size="9" text-anchor="middle">#</text>
<rect x="222.8" y="430.9" width="10.55" height="10.55" fill="rgb(248,127,121)"/>
<text x="228.07" y="439.48" font-size="9" text-anchor="middle">#</text>
<text x="236.6" y="439.85" font-size="10.4" text-anchor="start" fill="#000" >Slc25a22</text>
<rect x="5.25" y="442.35" width="10.55" height="10.55" fill="rgb(248,121,115)"/>
<rect x="16.7" y="442.35" width="10.55" height="10.55" fill="rgb(109,109,251)"/>
<rect x="28.15" y="442.35" width="10.55" height="10.55" fill="rgb(251,199,197)"/>
<rect x="39.6" y="442.35" width="10.55" height="10.55" fill="rgb(249,166,162)"/>
<rect x="51.05" y="442.35" width="10.55" height="10.55" fill="rgb(109,109,251)"/>
<rect x="62.5" y="442.35" width="10.55" height="10.55" fill="rgb(252,227,226)"/>
<rect x="73.95" y="442.35" width="10.55" height="10.55" fill="rgb(245,33,23)"/>
<rect x="85.4" y="442.35" width="10.55" height="10.55" fill="rgb(249,149,144)"/>
<rect x="96.85" y="442.35" width="10.55" height="10.55" fill="rgb(252,227,226)"/>
<rect x="108.3" y="442.35" width="10.55" height="10.55" fill="rgb(253,255,255)"/>
<rect x="119.75" y="442.35" width="10.55" height="10.55" fill="rgb(12,12,250)"/>
<rect x="131.2" y="442.35" width="10.55" height="10.55" fill="rgb(249,166,162)"/>
<rect x="142.65" y="442.35" width="10.55" height="10.55" fill="rgb(206,206,252)"/>
<rect x="154.1" y="442.35" width="10.55" height="10.55" fill="rgb(182,182,252)"/>
<rect x="165.55" y="442.35" width="10.55" height="10.55" fill="rgb(253,255,255)"/>
<text x="170.82" y="450.93" font-size="9" text-anchor="middle">§</text>
<rect x="177" y="442.35" width="10.55" height="10.55" fill="rgb(246,60,52)"/>
<text x="182.28" y="450.93" font-size="9" text-anchor="middle">§</text>
<rect x="188.45" y="442.35" width="10.55" height="10.55" fill="rgb(250,188,185)"/>
<text x="193.72" y="450.93" font-size="9" text-anchor="middle">§</text>
<rect x="199.9" y="442.35" width="10.55" height="10.55" fill="rgb(245,44,34)"/>
<text x="205.17" y="450.93" font-size="9" text-anchor="middle">#</text>
<rect x="211.35" y="442.35" width="10.55" height="10.55" fill="rgb(246,66,57)"/>
<text x="216.62" y="450.93" font-size="9" text-anchor="middle">#</text>
<rect x="222.8" y="442.35" width="10.55" height="10.55" fill="rgb(249,160,156)"/>
<text x="228.07" y="450.93" font-size="9" text-anchor="middle">#</text>
<text x="236.6" y="451.3" font-size="10.4" text-anchor="start" fill="#000" >Slc38a1</text>
<path d="M96.4 326.4V453.35" stroke="#666" stroke-width="1.1" stroke-dasharray="2.1 1.5"/>
<path d="M6.1 299.3H44.1" stroke="#000" stroke-width="1"/>
<path d="M51.2 299.3H95" stroke="#000" stroke-width="1"/>
<path d="M97.2 299.3H164" stroke="#000" stroke-width="1"/>
<path d="M166.2 299.3H232.5" stroke="#000" stroke-width="1"/>
<path d="M6.1 323.6H26.6" stroke="#000" stroke-width="1"/>
<path d="M28 323.6H49" stroke="#555" stroke-width="1"/>
<path d="M51.2 323.6H72.2" stroke="#000" stroke-width="1"/>
<path d="M74.5 323.6H95.5" stroke="#555" stroke-width="1"/>
<path d="M97.2 323.6H129.6" stroke="#000" stroke-width="1"/>
<path d="M131.8 323.6H164" stroke="#555" stroke-width="1"/>
<path d="M166.2 323.6H197.9" stroke="#000" stroke-width="1"/>
<path d="M200.1 323.6H232.5" stroke="#555" stroke-width="1"/>
<text x="28.2" y="296" font-size="10.2" text-anchor="middle" fill="#000" >Basal</text>
<text x="73.8" y="296" font-size="10.2" text-anchor="middle" fill="#000" >+MSO</text>
<text x="131.9" y="296" font-size="10.2" text-anchor="middle" fill="#000" >Basal</text>
<text x="200.2" y="296" font-size="10.2" text-anchor="middle" fill="#000" >+MSO</text>
<text class="b" transform="matrix(0.927 -0.375 0.375 0.927 13.9 321.4)" font-size="12" fill="#000">M0<tspan font-size="7.6" dy="-4.2" >Ctl</tspan><tspan dy="4.2" font-size="1">&#8203;</tspan></text>
<text class="g" transform="matrix(0.927 -0.375 0.375 0.927 33.8 321.7)" font-size="12" fill="#7f7f7f">M0<tspan font-size="7.6" dy="-4.2" >&#916;Gls1</tspan><tspan dy="4.2" font-size="1">&#8203;</tspan></text>
<text class="b" transform="matrix(0.927 -0.375 0.375 0.927 60.5 321.2)" font-size="12" fill="#000">M0<tspan font-size="7.6" dy="-4.2" >Ctl</tspan><tspan dy="4.2" font-size="1">&#8203;</tspan></text>
<text class="g" transform="matrix(0.927 -0.375 0.375 0.927 79.7 321.4)" font-size="12" fill="#7f7f7f">M0<tspan font-size="7.6" dy="-4.2" >&#916;Gls1</tspan><tspan dy="4.2" font-size="1">&#8203;</tspan></text>
<text class="b" transform="matrix(0.927 -0.375 0.375 0.927 112.5 321.7)" font-size="12" fill="#000">M2<tspan font-size="7.6" dy="-4.2" >Ctl</tspan><tspan dy="4.2" font-size="1">&#8203;</tspan></text>
<text class="g" transform="matrix(0.927 -0.375 0.375 0.927 140.1 321.7)" font-size="12" fill="#7f7f7f">M2<tspan font-size="7.6" dy="-4.2" >&#916;Gls1</tspan><tspan dy="4.2" font-size="1">&#8203;</tspan></text>
<text class="b" transform="matrix(0.927 -0.375 0.375 0.927 181.9 321.7)" font-size="12" fill="#000">M2<tspan font-size="7.6" dy="-4.2" >Ctl</tspan><tspan dy="4.2" font-size="1">&#8203;</tspan></text>
<text class="g" transform="matrix(0.927 -0.375 0.375 0.927 209.8 321.7)" font-size="12" fill="#7f7f7f">M2<tspan font-size="7.6" dy="-4.2" >&#916;Gls1</tspan><tspan dy="4.2" font-size="1">&#8203;</tspan></text>
<defs><linearGradient id="cb" x1="0" x2="1" y1="0" y2="0"><stop offset="0" stop-color="#1010f5"/><stop offset="0.5" stop-color="#fff"/><stop offset="1" stop-color="#f52819"/></linearGradient></defs>
<rect x="120.3" y="456.3" width="84.7" height="4.6" fill="url(#cb)"/>
<text x="117.8" y="461.2" font-size="7.9" text-anchor="end" fill="#000" >row min</text>
<text x="207.4" y="461.2" font-size="7.9" text-anchor="start" fill="#000" >row max</text>
<text x="10.9" y="494.2" font-size="14" text-anchor="start" fill="#000" font-weight="bold">g</text>
<defs>
<radialGradient id="gGreen" cx="0.38" cy="0.32" r="0.75"><stop offset="0" stop-color="#eef7e3"/><stop offset="0.5" stop-color="#c3e0ac"/><stop offset="1" stop-color="#9ccb7e"/></radialGradient>
<radialGradient id="gBlue" cx="0.38" cy="0.32" r="0.75"><stop offset="0" stop-color="#d8f0fb"/><stop offset="0.45" stop-color="#7fcaee"/><stop offset="1" stop-color="#3fa6e0"/></radialGradient>
<radialGradient id="gYel" cx="0.38" cy="0.32" r="0.75"><stop offset="0" stop-color="#fdf8cf"/><stop offset="0.45" stop-color="#f5e47c"/><stop offset="1" stop-color="#e8cb4a"/></radialGradient>
<radialGradient id="gBead" cx="0.4" cy="0.35" r="0.7"><stop offset="0" stop-color="#fafbd0"/><stop offset="1" stop-color="#e2e681"/></radialGradient>
<radialGradient id="gTan" cx="0.5" cy="0.4" r="0.65"><stop offset="0" stop-color="#f1d0b4"/><stop offset="0.6" stop-color="#e4b28c"/><stop offset="1" stop-color="#d2976b"/></radialGradient>
<linearGradient id="gCh" x1="0" x2="1"><stop offset="0" stop-color="#a65c2a"/><stop offset="0.45" stop-color="#c1733b"/><stop offset="1" stop-color="#d68c50"/></linearGradient>
<marker id="ah" viewBox="0 0 10 10" refX="7" refY="5" markerWidth="7.8" markerHeight="7.8" markerUnits="userSpaceOnUse" orient="auto"><path d="M0 0.6L10 5L0 9.4z" fill="#000"/></marker>
</defs>
<path d="M42.4 586.1 L46.8 582.4 L51.9 578.8 L57 575.1 L62.1 572.2 L67.2 582.4 L62.8 585.4 L58.5 589 L54.1 592.7 L49.9 596.5 L46.1 600.7 L42.4 605.1Z" fill="#e4eaf5" stroke="none"/>
<path d="M42.4 586.1L42.4 605.1" stroke="#b8c6dc" stroke-width="0.9"/>
<path d="M43.7 586.1L43.7 605.1" stroke="#fff" stroke-width="0.7"/>
<path d="M46.8 582.4L49.9 596.5" stroke="#b8c6dc" stroke-width="0.9"/>
<path d="M48.1 582.4L51.2 596.5" stroke="#fff" stroke-width="0.7"/>
<path d="M51.9 578.8L54.1 592.7" stroke="#b8c6dc" stroke-width="0.9"/>
<path d="M53.2 578.8L55.4 592.7" stroke="#fff" stroke-width="0.7"/>
<path d="M57 575.1L58.5 589" stroke="#b8c6dc" stroke-width="0.9"/>
<path d="M58.3 575.1L59.8 589" stroke="#fff" stroke-width="0.7"/>
<path d="M62.1 572.2L67.2 582.4" stroke="#b8c6dc" stroke-width="0.9"/>
<path d="M63.4 572.2L68.5 582.4" stroke="#fff" stroke-width="0.7"/>
<circle cx="42.4" cy="586.1" r="2.65" fill="url(#gBead)" stroke="#b9bd62" stroke-width="0.5"/>
<circle cx="46.8" cy="582.4" r="2.65" fill="url(#gBead)" stroke="#b9bd62" stroke-width="0.5"/>
<circle cx="51.9" cy="578.8" r="2.65" fill="url(#gBead)" stroke="#b9bd62" stroke-width="0.5"/>
<circle cx="57" cy="575.1" r="2.65" fill="url(#gBead)" stroke="#b9bd62" stroke-width="0.5"/>
<circle cx="62.1" cy="572.2" r="2.65" fill="url(#gBead)" stroke="#b9bd62" stroke-width="0.5"/>
<circle cx="42.4" cy="605.1" r="2.65" fill="url(#gBead)" stroke="#b9bd62" stroke-width="0.5"/>
<circle cx="46.1" cy="600.7" r="2.65" fill="url(#gBead)" stroke="#b9bd62" stroke-width="0.5"/>
<circle cx="49.9" cy="596.5" r="2.65" fill="url(#gBead)" stroke="#b9bd62" stroke-width="0.5"/>
<circle cx="54.1" cy="592.7" r="2.65" fill="url(#gBead)" stroke="#b9bd62" stroke-width="0.5"/>
<circle cx="58.5" cy="589" r="2.65" fill="url(#gBead)" stroke="#b9bd62" stroke-width="0.5"/>
<circle cx="62.8" cy="585.4" r="2.65" fill="url(#gBead)" stroke="#b9bd62" stroke-width="0.5"/>
<circle cx="67.2" cy="582.4" r="2.65" fill="url(#gBead)" stroke="#b9bd62" stroke-width="0.5"/>
<path d="M162.7 566 L167 568.9 L171.4 571.8 L176.1 575.5 L180.9 579.1 L185.7 582.8 L189.7 586.4 L190.4 605.4 L186.8 601.8 L182.4 598.1 L178 594.5 L173.2 590.1 L168.5 586.4 L164.1 582.8 L159.7 579.1Z" fill="#e4eaf5" stroke="none"/>
<path d="M162.7 566L159.7 579.1" stroke="#b8c6dc" stroke-width="0.9"/>
<path d="M164 566L161 579.1" stroke="#fff" stroke-width="0.7"/>
<path d="M167 568.9L164.1 582.8" stroke="#b8c6dc" stroke-width="0.9"/>
<path d="M168.3 568.9L165.4 582.8" stroke="#fff" stroke-width="0.7"/>
<path d="M171.4 571.8L168.5 586.4" stroke="#b8c6dc" stroke-width="0.9"/>
<path d="M172.7 571.8L169.8 586.4" stroke="#fff" stroke-width="0.7"/>
<path d="M176.1 575.5L178 594.5" stroke="#b8c6dc" stroke-width="0.9"/>
<path d="M177.4 575.5L179.3 594.5" stroke="#fff" stroke-width="0.7"/>
<path d="M180.9 579.1L182.4 598.1" stroke="#b8c6dc" stroke-width="0.9"/>
<path d="M182.2 579.1L183.7 598.1" stroke="#fff" stroke-width="0.7"/>
<path d="M185.7 582.8L186.8 601.8" stroke="#b8c6dc" stroke-width="0.9"/>
<path d="M187 582.8L188.1 601.8" stroke="#fff" stroke-width="0.7"/>
<path d="M189.7 586.4L190.4 605.4" stroke="#b8c6dc" stroke-width="0.9"/>
<path d="M191 586.4L191.7 605.4" stroke="#fff" stroke-width="0.7"/>
<circle cx="162.7" cy="566" r="2.65" fill="url(#gBead)" stroke="#b9bd62" stroke-width="0.5"/>
<circle cx="167" cy="568.9" r="2.65" fill="url(#gBead)" stroke="#b9bd62" stroke-width="0.5"/>
<circle cx="171.4" cy="571.8" r="2.65" fill="url(#gBead)" stroke="#b9bd62" stroke-width="0.5"/>
<circle cx="176.1" cy="575.5" r="2.65" fill="url(#gBead)" stroke="#b9bd62" stroke-width="0.5"/>
<circle cx="180.9" cy="579.1" r="2.65" fill="url(#gBead)" stroke="#b9bd62" stroke-width="0.5"/>
<circle cx="185.7" cy="582.8" r="2.65" fill="url(#gBead)" stroke="#b9bd62" stroke-width="0.5"/>
<circle cx="189.7" cy="586.4" r="2.65" fill="url(#gBead)" stroke="#b9bd62" stroke-width="0.5"/>
<circle cx="159.7" cy="579.1" r="2.65" fill="url(#gBead)" stroke="#b9bd62" stroke-width="0.5"/>
<circle cx="164.1" cy="582.8" r="2.65" fill="url(#gBead)" stroke="#b9bd62" stroke-width="0.5"/>
<circle cx="168.5" cy="586.4" r="2.65" fill="url(#gBead)" stroke="#b9bd62" stroke-width="0.5"/>
<circle cx="173.2" cy="590.1" r="2.65" fill="url(#gBead)" stroke="#b9bd62" stroke-width="0.5"/>
<circle cx="178" cy="594.5" r="2.65" fill="url(#gBead)" stroke="#b9bd62" stroke-width="0.5"/>
<circle cx="182.4" cy="598.1" r="2.65" fill="url(#gBead)" stroke="#b9bd62" stroke-width="0.5"/>
<circle cx="186.8" cy="601.8" r="2.65" fill="url(#gBead)" stroke="#b9bd62" stroke-width="0.5"/>
<circle cx="190.4" cy="605.4" r="2.65" fill="url(#gBead)" stroke="#b9bd62" stroke-width="0.5"/>
<path d="M108.6 556.6 L113.4 556.4 L118.2 556.6 L118.2 568.9 L113.4 569.1 L108.6 568.9Z" fill="#e4eaf5" stroke="none"/>
<path d="M108.6 556.6L108.6 568.9" stroke="#b8c6dc" stroke-width="0.9"/>
<path d="M109.9 556.6L109.9 568.9" stroke="#fff" stroke-width="0.7"/>
<path d="M113.4 556.4L113.4 569.1" stroke="#b8c6dc" stroke-width="0.9"/>
<path d="M114.7 556.4L114.7 569.1" stroke="#fff" stroke-width="0.7"/>
<path d="M118.2 556.6L118.2 568.9" stroke="#b8c6dc" stroke-width="0.9"/>
<path d="M119.5 556.6L119.5 568.9" stroke="#fff" stroke-width="0.7"/>
<circle cx="108.6" cy="556.6" r="2.65" fill="url(#gBead)" stroke="#b9bd62" stroke-width="0.5"/>
<circle cx="113.4" cy="556.4" r="2.65" fill="url(#gBead)" stroke="#b9bd62" stroke-width="0.5"/>
<circle cx="118.2" cy="556.6" r="2.65" fill="url(#gBead)" stroke="#b9bd62" stroke-width="0.5"/>
<circle cx="108.6" cy="568.9" r="2.65" fill="url(#gBead)" stroke="#b9bd62" stroke-width="0.5"/>
<circle cx="113.4" cy="569.1" r="2.65" fill="url(#gBead)" stroke="#b9bd62" stroke-width="0.5"/>
<circle cx="118.2" cy="568.9" r="2.65" fill="url(#gBead)" stroke="#b9bd62" stroke-width="0.5"/>
<path d="M75.4 544.6 C69.4 546.5 66.1 555 66.2 564 C66.4 576 70.9 590 77.9 596.3 C80.9 598.6 83.9 598.9 86.4 597.6 C88.9 598.9 91.9 598.6 94.9 596.3 C101.9 590 106.4 576 106.6 564 C106.7 555 103.4 546.5 97.4 544.6 C91.4 543.3 81.4 543.3 75.4 544.6Z" fill="url(#gTan)" stroke="#3a2516" stroke-width="0.8"/>
<path d="M76.4 545 C82.4 543.6 90.4 543.6 96.9 545 C95.9 549 92.7 551 93 553.5 C93.4 557 97.9 559 97.6 562.5 C97.4 567 92.4 572 89.6 578 C88 582 87.4 590 86.9 597 L85.9 597 C85.4 590 84.8 582 83.2 578 C80.4 572 75.8 567 75.6 562.5 C75.4 559 79.8 557 80.2 553.5 C80.4 551 77.2 549 76.4 545Z" fill="url(#gCh)" stroke="#3a2516" stroke-width="0.55"/>
<path d="M79.9 556 C77.4 560 78.4 566 81.9 571 C83.9 575 84.9 580 85.4 586 C85.9 578 85.4 570 83.4 565 C81.9 561 81.4 558 79.9 556Z" fill="#7e431c" opacity="0.75"/>
<path d="M92.6 558.5 C94.4 561.5 92.9 566 90.4 569.5" stroke="#f0b98a" stroke-width="0.8" fill="none" opacity="0.9"/>
<path d="M129.3 544.6 C123.3 546.5 120 555 120.1 564 C120.3 576 124.8 590 131.8 596.3 C134.8 598.6 137.8 598.9 140.3 597.6 C142.8 598.9 145.8 598.6 148.8 596.3 C155.8 590 160.3 576 160.5 564 C160.6 555 157.3 546.5 151.3 544.6 C145.3 543.3 135.3 543.3 129.3 544.6Z" fill="url(#gTan)" stroke="#3a2516" stroke-width="0.8"/>
<path d="M130.3 545 C136.3 543.6 144.3 543.6 150.8 545 C149.8 549 146.6 551 146.9 553.5 C147.3 557 151.8 559 151.5 562.5 C151.3 567 146.3 572 143.5 578 C141.9 582 141.3 590 140.8 597 L139.8 597 C139.3 590 138.7 582 137.1 578 C134.3 572 129.7 567 129.5 562.5 C129.3 559 133.7 557 134.1 553.5 C134.3 551 131.1 549 130.3 545Z" fill="url(#gCh)" stroke="#3a2516" stroke-width="0.55"/>
<path d="M133.8 556 C131.3 560 132.3 566 135.8 571 C137.8 575 138.8 580 139.3 586 C139.8 578 139.3 570 137.3 565 C135.8 561 135.3 558 133.8 556Z" fill="#7e431c" opacity="0.75"/>
<path d="M146.5 558.5 C148.3 561.5 146.8 566 144.3 569.5" stroke="#f0b98a" stroke-width="0.8" fill="none" opacity="0.9"/>
<circle cx="59.7" cy="530.9" r="6.5" fill="url(#gGreen)" stroke="#4d7a36" stroke-width="0.95"/>
<circle cx="112.3" cy="530.9" r="6.5" fill="url(#gBlue)" stroke="#2474a8" stroke-width="0.95"/>
<circle cx="165.3" cy="530.9" r="6.5" fill="url(#gYel)" stroke="#9a8022" stroke-width="0.95"/>
<circle cx="59.7" cy="616.9" r="6.5" fill="url(#gGreen)" stroke="#4d7a36" stroke-width="0.95"/>
<circle cx="112.3" cy="616.9" r="6.5" fill="url(#gBlue)" stroke="#2474a8" stroke-width="0.95"/>
<circle cx="165.3" cy="616.9" r="6.5" fill="url(#gYel)" stroke="#9a8022" stroke-width="0.95"/>
<path d="M67.2 532.2 C88 552 92 585 75.5 605.3" stroke="#000" stroke-width="1.15" fill="none" marker-end="url(#ah)"/>
<path d="M98.6 610 C84 590 84 560 101.8 539" stroke="#000" stroke-width="1.15" fill="none" marker-end="url(#ah)"/>
<path d="M121.8 533.1 C141 553 146 585 128.2 605.8" stroke="#000" stroke-width="1.15" fill="none" marker-end="url(#ah)"/>
<path d="M152.4 609.8 C137 590 136 560 154.8 537.2" stroke="#000" stroke-width="1.15" fill="none" marker-end="url(#ah)"/>
<text x="28.7" y="532.8" font-size="11" text-anchor="start" fill="#000" >Leu</text>
<text x="82.7" y="532.8" font-size="11" text-anchor="start" fill="#000" >Gln</text>
<text x="174.8" y="532.6" font-size="11" text-anchor="start" fill="#000" >Arg</text>
<text x="30.3" y="558.3" font-size="11" text-anchor="start" fill="#000" >Slc7a5</text>
<text x="165" y="558.7" font-size="11" text-anchor="start" fill="#000" >Slc7a7</text>
<text x="28.7" y="618.6" font-size="11" text-anchor="start" fill="#000" >Leu</text>
<text x="82.7" y="618.6" font-size="11" text-anchor="start" fill="#000" >Gln</text>
<text x="174.8" y="618.3" font-size="11" text-anchor="start" fill="#000" >Arg</text>
<path d="M59.3 632V657" stroke="#000" stroke-width="1.15" fill="none" marker-end="url(#ah)"/>
<path d="M163.8 632V657" stroke="#000" stroke-width="1.15" fill="none" marker-end="url(#ah)"/>
<path d="M107.2 632L101.6 657" stroke="#000" stroke-width="1.15" fill="none" marker-end="url(#ah)"/>
<path d="M117.2 632L124.3 657" stroke="#000" stroke-width="1.15" fill="none" marker-end="url(#ah)"/>
<text x="72.4" y="642.3" font-size="10.6" text-anchor="start" fill="#000" font-style="italic">Pgm3</text>
<text x="122.3" y="642.3" font-size="10.6" text-anchor="start" fill="#000" font-style="italic">Gls1</text>
<text x="58.9" y="677.2" font-size="11.6" text-anchor="middle" fill="#000" >mTor</text>
<text x="99.6" y="677.2" font-size="11.4" text-anchor="middle" fill="#000" >GlcNac</text>
<text x="136" y="677.2" font-size="10.9" text-anchor="middle" fill="#000" >Glu</text>
<text x="164.1" y="677.2" font-size="10.8" text-anchor="middle" fill="#000" >Dbl</text>
</svg></body></html>
